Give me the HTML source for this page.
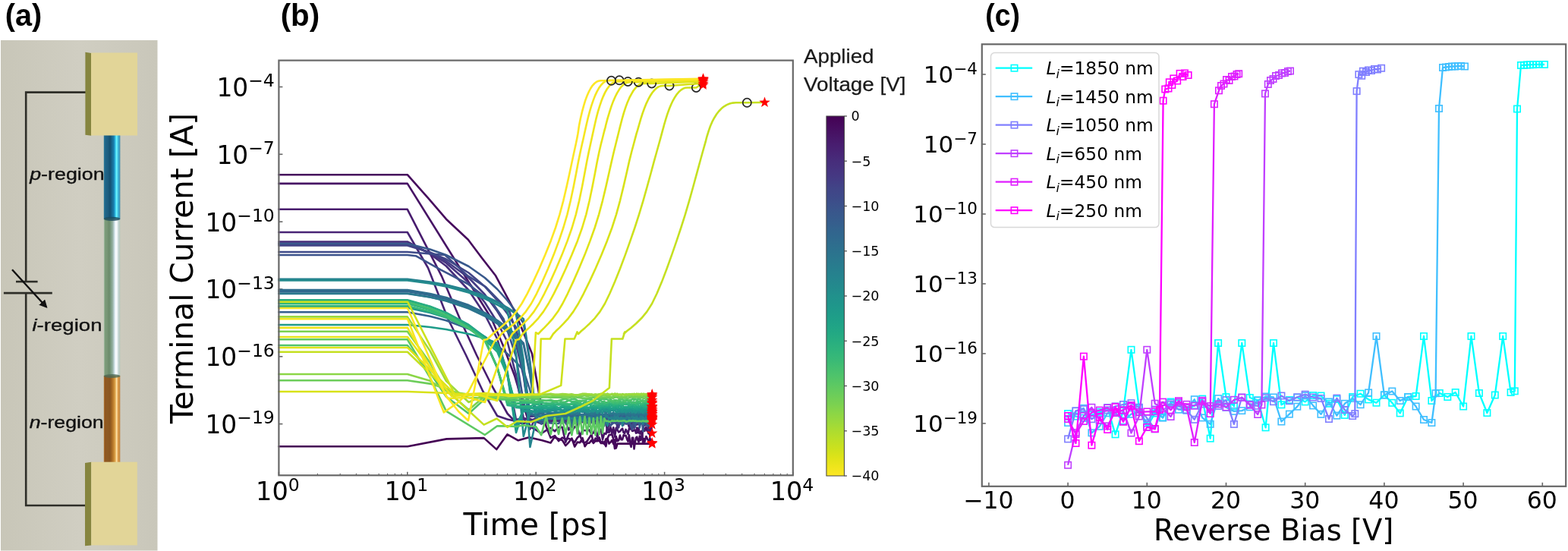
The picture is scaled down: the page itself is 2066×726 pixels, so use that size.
<!DOCTYPE html>
<html><head><meta charset="utf-8"><title>Figure</title>
<style>html,body{margin:0;padding:0;background:#fff;overflow:hidden;}svg{display:block;}</style></head>
<body><svg width="2066" height="726" viewBox="0 0 2066 726">
<rect width="2066" height="726" fill="#fff"/>
<defs>
<linearGradient id="bgA" x1="0" y1="0" x2="1" y2="0">
 <stop offset="0" stop-color="#c8c6b8"/><stop offset="0.5" stop-color="#d0cec2"/><stop offset="1" stop-color="#c9c7ba"/>
</linearGradient>
<linearGradient id="pB" x1="0" y1="0" x2="1" y2="0">
 <stop offset="0" stop-color="#2a7a98"/><stop offset="0.1" stop-color="#1f6488"/><stop offset="0.25" stop-color="#1c5e80"/><stop offset="0.38" stop-color="#145070"/><stop offset="0.5" stop-color="#186890"/><stop offset="0.62" stop-color="#1a80b0"/><stop offset="0.7" stop-color="#30c0e8"/><stop offset="0.78" stop-color="#70f8ff"/><stop offset="0.86" stop-color="#40c0e0"/><stop offset="0.94" stop-color="#3a9ac0"/><stop offset="1" stop-color="#5090a8"/>
</linearGradient>
<linearGradient id="iB" x1="0" y1="0" x2="1" y2="0">
 <stop offset="0" stop-color="#b0c4b0"/><stop offset="0.07" stop-color="#7c9c7a"/><stop offset="0.2" stop-color="#789676"/><stop offset="0.33" stop-color="#6a8a6a"/><stop offset="0.45" stop-color="#80a088"/><stop offset="0.55" stop-color="#98b4a8"/><stop offset="0.65" stop-color="#cfe0e8"/><stop offset="0.72" stop-color="#f8fcff"/><stop offset="0.8" stop-color="#f4f8fa"/><stop offset="0.9" stop-color="#c0d2d0"/><stop offset="1" stop-color="#b8c8b8"/>
</linearGradient>
<linearGradient id="nB" x1="0" y1="0" x2="1" y2="0">
 <stop offset="0" stop-color="#b07830"/><stop offset="0.08" stop-color="#905520"/><stop offset="0.2" stop-color="#8e5a22"/><stop offset="0.38" stop-color="#8a5520"/><stop offset="0.5" stop-color="#a86a24"/><stop offset="0.62" stop-color="#c88a34"/><stop offset="0.7" stop-color="#e0a850"/><stop offset="0.78" stop-color="#ffe4a8"/><stop offset="0.86" stop-color="#e0a050"/><stop offset="0.94" stop-color="#c88838"/><stop offset="1" stop-color="#c09060"/>
</linearGradient>
<marker id="arr" viewBox="0 0 10 10" refX="8" refY="5" markerWidth="4.5" markerHeight="4.5" orient="auto-start-reverse"><path d="M0,0 L10,5 L0,10 z" fill="#111"/></marker>
</defs>
<rect x="1" y="53" width="206.5" height="672.5" fill="url(#bgA)"/>
<path d="M113,121.6 H34.2 V371" fill="none" stroke="#2e2e28" stroke-width="2.6"/>
<path d="M34.2,386 V666 H113" fill="none" stroke="#2e2e28" stroke-width="2.6"/>
<line x1="21" y1="371.1" x2="49.6" y2="371.1" stroke="#2e2e28" stroke-width="2.6"/>
<line x1="4.9" y1="386.1" x2="68.8" y2="386.1" stroke="#2e2e28" stroke-width="2.6"/>
<line x1="16" y1="355.3" x2="61" y2="404.5" stroke="#111" stroke-width="2.4" marker-end="url(#arr)"/>
<rect x="136.8" y="177" width="21.6" height="112" fill="url(#pB)"/>
<rect x="136.8" y="288" width="21.6" height="208" fill="url(#iB)"/>
<rect x="136.8" y="495" width="21.6" height="115" fill="url(#nB)"/>
<ellipse cx="147.6" cy="288.4" rx="10.8" ry="2.6" fill="#1d4c5e" opacity="0.85"/>
<ellipse cx="147.6" cy="495.5" rx="10.8" ry="2.4" fill="#4d6a58" opacity="0.8"/>
<polygon points="112.4,68.7 120.2,70 120.2,178.8 112.4,177.8" fill="#86853f"/>
<rect x="120" y="69.5" width="61" height="109" fill="#e2d598"/>
<polygon points="112,610 120.3,608.7 120.3,718.4 112,719.3" fill="#86853f"/>
<rect x="120.2" y="608.7" width="60.6" height="109.7" fill="#e2d598"/>
<text x="39.2" y="237" font-family="'Liberation Sans', Arial, sans-serif" font-size="22.5" fill="#111" stroke="#111" stroke-width="0.35" textLength="98.5" lengthAdjust="spacingAndGlyphs"><tspan font-style="italic">p</tspan>-region</text>
<text x="42.5" y="435.7" font-family="'Liberation Sans', Arial, sans-serif" font-size="22.5" fill="#111" stroke="#111" stroke-width="0.35" textLength="92" lengthAdjust="spacingAndGlyphs"><tspan font-style="italic">i</tspan>-region</text>
<text x="38.7" y="563.7" font-family="'Liberation Sans', Arial, sans-serif" font-size="22.5" fill="#111" stroke="#111" stroke-width="0.35" textLength="98" lengthAdjust="spacingAndGlyphs"><tspan font-style="italic">n</tspan>-region</text>
<text x="6.8" y="33.6" font-family="'Liberation Sans', Arial, sans-serif" font-size="41.5" font-weight="bold" fill="#000" textLength="48.5" lengthAdjust="spacingAndGlyphs">(a)</text>
<text x="369.7" y="33.6" font-family="'Liberation Sans', Arial, sans-serif" font-size="41.5" font-weight="bold" fill="#000" textLength="51.5" lengthAdjust="spacingAndGlyphs">(b)</text>
<line x1="367.4" y1="114.5" x2="372.4" y2="114.5" stroke="#686868" stroke-width="1.6"/>
<text x="361.8" y="126.9" text-anchor="end" font-family="'DejaVu Sans', 'Liberation Sans', sans-serif" font-size="32.8" fill="#000">10<tspan dy="-12.7" font-size="23.5">−4</tspan></text>
<line x1="367.4" y1="203.3" x2="372.4" y2="203.3" stroke="#686868" stroke-width="1.6"/>
<text x="361.8" y="215.7" text-anchor="end" font-family="'DejaVu Sans', 'Liberation Sans', sans-serif" font-size="32.8" fill="#000">10<tspan dy="-12.7" font-size="23.5">−7</tspan></text>
<line x1="367.4" y1="292.2" x2="372.4" y2="292.2" stroke="#686868" stroke-width="1.6"/>
<text x="361.8" y="304.6" text-anchor="end" font-family="'DejaVu Sans', 'Liberation Sans', sans-serif" font-size="32.8" fill="#000">10<tspan dy="-12.7" font-size="23.5">−10</tspan></text>
<line x1="367.4" y1="381" x2="372.4" y2="381" stroke="#686868" stroke-width="1.6"/>
<text x="361.8" y="393.4" text-anchor="end" font-family="'DejaVu Sans', 'Liberation Sans', sans-serif" font-size="32.8" fill="#000">10<tspan dy="-12.7" font-size="23.5">−13</tspan></text>
<line x1="367.4" y1="469.8" x2="372.4" y2="469.8" stroke="#686868" stroke-width="1.6"/>
<text x="361.8" y="482.2" text-anchor="end" font-family="'DejaVu Sans', 'Liberation Sans', sans-serif" font-size="32.8" fill="#000">10<tspan dy="-12.7" font-size="23.5">−16</tspan></text>
<line x1="367.4" y1="558.6" x2="372.4" y2="558.6" stroke="#686868" stroke-width="1.6"/>
<text x="361.8" y="571" text-anchor="end" font-family="'DejaVu Sans', 'Liberation Sans', sans-serif" font-size="32.8" fill="#000">10<tspan dy="-12.7" font-size="23.5">−19</tspan></text>
<line x1="418.4" y1="626.3" x2="418.4" y2="623.8" stroke="#686868" stroke-width="1.2"/>
<line x1="448.2" y1="626.3" x2="448.2" y2="623.8" stroke="#686868" stroke-width="1.2"/>
<line x1="469.4" y1="626.3" x2="469.4" y2="623.8" stroke="#686868" stroke-width="1.2"/>
<line x1="485.8" y1="626.3" x2="485.8" y2="623.8" stroke="#686868" stroke-width="1.2"/>
<line x1="499.2" y1="626.3" x2="499.2" y2="623.8" stroke="#686868" stroke-width="1.2"/>
<line x1="510.6" y1="626.3" x2="510.6" y2="623.8" stroke="#686868" stroke-width="1.2"/>
<line x1="520.4" y1="626.3" x2="520.4" y2="623.8" stroke="#686868" stroke-width="1.2"/>
<line x1="529" y1="626.3" x2="529" y2="623.8" stroke="#686868" stroke-width="1.2"/>
<line x1="587.8" y1="626.3" x2="587.8" y2="623.8" stroke="#686868" stroke-width="1.2"/>
<line x1="617.6" y1="626.3" x2="617.6" y2="623.8" stroke="#686868" stroke-width="1.2"/>
<line x1="638.8" y1="626.3" x2="638.8" y2="623.8" stroke="#686868" stroke-width="1.2"/>
<line x1="655.2" y1="626.3" x2="655.2" y2="623.8" stroke="#686868" stroke-width="1.2"/>
<line x1="668.6" y1="626.3" x2="668.6" y2="623.8" stroke="#686868" stroke-width="1.2"/>
<line x1="680" y1="626.3" x2="680" y2="623.8" stroke="#686868" stroke-width="1.2"/>
<line x1="689.8" y1="626.3" x2="689.8" y2="623.8" stroke="#686868" stroke-width="1.2"/>
<line x1="698.4" y1="626.3" x2="698.4" y2="623.8" stroke="#686868" stroke-width="1.2"/>
<line x1="757.2" y1="626.3" x2="757.2" y2="623.8" stroke="#686868" stroke-width="1.2"/>
<line x1="787" y1="626.3" x2="787" y2="623.8" stroke="#686868" stroke-width="1.2"/>
<line x1="808.2" y1="626.3" x2="808.2" y2="623.8" stroke="#686868" stroke-width="1.2"/>
<line x1="824.6" y1="626.3" x2="824.6" y2="623.8" stroke="#686868" stroke-width="1.2"/>
<line x1="838" y1="626.3" x2="838" y2="623.8" stroke="#686868" stroke-width="1.2"/>
<line x1="849.4" y1="626.3" x2="849.4" y2="623.8" stroke="#686868" stroke-width="1.2"/>
<line x1="859.2" y1="626.3" x2="859.2" y2="623.8" stroke="#686868" stroke-width="1.2"/>
<line x1="867.8" y1="626.3" x2="867.8" y2="623.8" stroke="#686868" stroke-width="1.2"/>
<line x1="926.6" y1="626.3" x2="926.6" y2="623.8" stroke="#686868" stroke-width="1.2"/>
<line x1="956.4" y1="626.3" x2="956.4" y2="623.8" stroke="#686868" stroke-width="1.2"/>
<line x1="977.6" y1="626.3" x2="977.6" y2="623.8" stroke="#686868" stroke-width="1.2"/>
<line x1="994" y1="626.3" x2="994" y2="623.8" stroke="#686868" stroke-width="1.2"/>
<line x1="1007.4" y1="626.3" x2="1007.4" y2="623.8" stroke="#686868" stroke-width="1.2"/>
<line x1="1018.8" y1="626.3" x2="1018.8" y2="623.8" stroke="#686868" stroke-width="1.2"/>
<line x1="1028.6" y1="626.3" x2="1028.6" y2="623.8" stroke="#686868" stroke-width="1.2"/>
<line x1="1037.2" y1="626.3" x2="1037.2" y2="623.8" stroke="#686868" stroke-width="1.2"/>
<line x1="367.4" y1="626.3" x2="367.4" y2="621.8" stroke="#686868" stroke-width="1.6"/>
<text x="365.9" y="659" text-anchor="middle" font-family="'DejaVu Sans', 'Liberation Sans', sans-serif" font-size="33.5" fill="#000">10<tspan dy="-12.5" font-size="23.5">0</tspan></text>
<line x1="536.8" y1="626.3" x2="536.8" y2="621.8" stroke="#686868" stroke-width="1.6"/>
<text x="535.3" y="659" text-anchor="middle" font-family="'DejaVu Sans', 'Liberation Sans', sans-serif" font-size="33.5" fill="#000">10<tspan dy="-12.5" font-size="23.5">1</tspan></text>
<line x1="706.2" y1="626.3" x2="706.2" y2="621.8" stroke="#686868" stroke-width="1.6"/>
<text x="704.7" y="659" text-anchor="middle" font-family="'DejaVu Sans', 'Liberation Sans', sans-serif" font-size="33.5" fill="#000">10<tspan dy="-12.5" font-size="23.5">2</tspan></text>
<line x1="875.6" y1="626.3" x2="875.6" y2="621.8" stroke="#686868" stroke-width="1.6"/>
<text x="874.1" y="659" text-anchor="middle" font-family="'DejaVu Sans', 'Liberation Sans', sans-serif" font-size="33.5" fill="#000">10<tspan dy="-12.5" font-size="23.5">3</tspan></text>
<line x1="1045" y1="626.3" x2="1045" y2="621.8" stroke="#686868" stroke-width="1.6"/>
<text x="1043.5" y="659" text-anchor="middle" font-family="'DejaVu Sans', 'Liberation Sans', sans-serif" font-size="33.5" fill="#000">10<tspan dy="-12.5" font-size="23.5">4</tspan></text>
<text x="706" y="704.6" text-anchor="middle" font-family="'DejaVu Sans', 'Liberation Sans', sans-serif" font-size="40.6" fill="#000">Time [ps]</text>
<text transform="translate(253.8,353.5) rotate(-90)" text-anchor="middle" font-family="'DejaVu Sans', 'Liberation Sans', sans-serif" font-size="40.6" fill="#000">Terminal Current [A]</text>
<path d="M367.4,588.2 L537,588.2 L588.4,578.4 L637.6,577.1 L654.3,592.1 L668.5,572.3 L682.8,580.3 L697,576.3 L714.4,580.3 L725.5,583.4 L730.3,576.3 L740.8,579.9 L745.2,587.2 L749.4,582.8 L753.4,577.5 L757.2,588.5 L760.8,582.6 L764.2,583.2 L767.5,577.1 L770.6,588.2 L773.6,583.9 L776.5,583.6 L779.3,580.2 L781.9,583.5 L784.5,581.1 L787,581.3 L789.4,580.3 L791.8,584 L794,583.6 L796.2,585 L798.4,578.4 L800.4,577.6 L802.5,584.6 L804.4,582.7 L806.3,580 L808.2,584.8 L810,579.6 L811.8,590.5 L813.5,584.6 L859.2,584.6" fill="none" stroke="#440154" stroke-width="2.6" stroke-linejoin="round" stroke-linecap="round"/>
<path d="M367.4,230.3 L537,230.3 L564.7,261.7 L587.9,288.7 L616.8,315.7 L635,340 L652.7,362.7 L678.6,410.9 L701,466 L710,517.7 L719.6,562 L725.5,576.8 L731,574.1 L736,581.1 L740.8,576.6 L745.2,578.5 L749.4,577.9 L753.4,579.4 L757.2,582.8 L760.8,576.7 L764.2,573.8 L767.5,582.2 L770.6,583.4 L773.6,581.3 L776.5,576.8 L779.3,572.1 L781.9,583.9 L784.5,577.5 L787,579.3 L789.4,576.3 L791.8,583 L794,581.5 L796.2,583.8 L798.4,588.1 L800.4,577.7 L802.5,573 L804.4,573 L806.3,572.1 L808.2,578.3 L810,591.1 L811.8,575.1 L813.5,581.2 L815.2,580.3 L816.9,573.6 L818.5,579.2 L820.1,579.3 L821.6,573.2 L823.1,574.1 L824.6,573.7 L826.1,578.7 L827.5,581.6 L828.9,573.4 L830.3,584.5 L831.6,588.8 L832.9,576.8 L834.2,576.8 L835.5,591.5 L836.8,583.1 L838,576.8 L839.2,575.7 L840.4,579.8 L841.6,582.5 L842.8,574.6 L843.9,580.1 L845,575.6 L846.1,573 L847.2,583.6 L848.3,578 L849.4,582.5 L850.4,578.4 L851.4,575.1 L852.4,576.9 L853.4,579.3 L854.4,580.1 L855.4,583.8 L856.4,577.3 L857.3,582.6 L858.3,580 L859.2,583.6" fill="none" stroke="#460a5d" stroke-width="2.6" stroke-linejoin="round" stroke-linecap="round"/>
<path d="M367.4,241.9 L536.8,241.9 L647.7,420 L664,458 L678,495 L690,535 L698.4,562 L706.2,566.5 L713.2,571.2 L719.6,567.1 L725.5,563.8 L731,568.3 L736,562.9 L740.8,562.9 L745.2,582.8 L749.4,571.6 L753.4,568.2 L757.2,562.2 L760.8,562.6 L764.2,574.7 L767.5,566.4 L770.6,567.2 L773.6,567 L776.5,566.6 L779.3,572 L781.9,570.4 L784.5,565.2 L787,577.3 L789.4,566 L791.8,565.9 L794,578.9 L796.2,571.1 L798.4,571.8 L800.4,562.7 L802.5,569.8 L804.4,562.9 L806.3,571.6 L808.2,563.2 L810,575.6 L811.8,563.8 L813.5,566.5 L815.2,569.3 L816.9,568.4 L818.5,566.2 L820.1,564.7 L821.6,570 L823.1,570.8 L824.6,565.9 L826.1,568.4 L827.5,571.9 L828.9,564.6 L830.3,565.3 L831.6,562.7 L832.9,567.8 L834.2,568 L835.5,566.5 L836.8,566.8 L838,570.7 L839.2,563.5 L840.4,570.2 L841.6,563.9 L842.8,571.4 L843.9,571.5 L845,568 L846.1,576.8 L847.2,564.4 L848.3,564.6 L849.4,568 L850.4,563.8 L851.4,562.7 L852.4,567.6 L853.4,568.1 L854.4,571.2 L855.4,562.2 L856.4,574.7 L857.3,565.7 L858.3,563.3 L859.2,570.9" fill="none" stroke="#471365" stroke-width="2.6" stroke-linejoin="round" stroke-linecap="round"/>
<path d="M367.4,275.8 L536.8,275.8 L582.3,364.7 L605.9,420 L628,468 L648,508 L668.6,545 L680,556.8 L689.8,558 L698.4,554.1 L706.2,555.6 L713.2,558.1 L719.6,557.3 L725.5,554.9 L731,555 L736,554.4 L740.8,554.4 L745.2,556 L749.4,566.5 L753.4,559.5 L757.2,554.5 L760.8,559.7 L764.2,556.5 L767.5,555.9 L770.6,555 L773.6,554.3 L776.5,558.9 L779.3,556.5 L781.9,556.9 L784.5,554.2 L787,559.8 L789.4,558 L791.8,556.2 L794,558 L796.2,555.4 L798.4,557.1 L800.4,569.8 L802.5,556.6 L804.4,555.3 L806.3,556.3 L808.2,554.6 L810,555.1 L811.8,554.2 L813.5,556.1 L815.2,554.3 L816.9,555.3 L818.5,556.9 L820.1,556.9 L821.6,555 L823.1,556.2 L824.6,558.5 L826.1,554 L827.5,558.6 L828.9,562.7 L830.3,557.7 L831.6,560 L832.9,554.1 L834.2,558.7 L835.5,557.8 L836.8,557.2 L838,557.8 L839.2,559.7 L840.4,555 L841.6,559.2 L842.8,559.7 L843.9,558.2 L845,555.3 L846.1,555.5 L847.2,558.2 L848.3,559.3 L849.4,555.4 L850.4,559.9 L851.4,557.7 L852.4,559.8 L853.4,556.5 L854.4,559.4 L855.4,557.5 L856.4,556.2 L857.3,569.4 L858.3,559.4 L859.2,559.4" fill="none" stroke="#481c6e" stroke-width="2.6" stroke-linejoin="round" stroke-linecap="round"/>
<path d="M367.4,306 L536.8,306 L564,353 L590.2,420 L614,468 L636,515 L655.2,548 L668.6,552.6 L680,555.1 L689.8,552.1 L698.4,551.9 L706.2,555.4 L713.2,554.2 L719.6,552.8 L725.5,556 L731,551.1 L736,551.9 L740.8,555.9 L745.2,556 L749.4,556.7 L753.4,552.5 L757.2,553.9 L760.8,554.4 L764.2,553.2 L767.5,552.9 L770.6,555.9 L773.6,556.9 L776.5,554.3 L779.3,551.8 L781.9,553.7 L784.5,552.2 L787,552.5 L789.4,554.6 L791.8,551.8 L794,552.4 L796.2,552.2 L798.4,551.4 L800.4,556.7 L802.5,555.3 L804.4,551.3 L806.3,555.8 L808.2,554.8 L810,553.5 L811.8,556.3 L813.5,552.2 L815.2,553.2 L816.9,551.8 L818.5,554.6 L820.1,552.3 L821.6,554.5 L823.1,553.2 L824.6,553 L826.1,552 L827.5,551.7 L828.9,551.4 L830.3,554.3 L831.6,551.2 L832.9,553.1 L834.2,551 L835.5,551.7 L836.8,552.6 L838,551.5 L839.2,553.2 L840.4,551 L841.6,554 L842.8,554.1 L843.9,555 L845,551.2 L846.1,556.5 L847.2,552.5 L848.3,556.1 L849.4,554.5 L850.4,552.5 L851.4,552.2 L852.4,551.2 L853.4,551.5 L854.4,567 L855.4,552.1 L856.4,554.3 L857.3,552.7 L858.3,551.8 L859.2,551.7" fill="none" stroke="#482475" stroke-width="2.6" stroke-linejoin="round" stroke-linecap="round"/>
<path d="M367.4,318.5 L536.8,318.5 L566.6,334.5 L587.8,350.5 L617.6,382.5 L638.8,414.5 L655.2,446.5 L668.6,492.9 L680,553 L689.8,550.6 L698.4,553.9 L706.2,551.6 L713.2,554.4 L719.6,551.8 L725.5,552.4 L731,550.7 L736,555.4 L740.8,551.6 L745.2,553.8 L749.4,553.3 L753.4,551 L757.2,550.7 L760.8,550.5 L764.2,555.9 L767.5,555.9 L770.6,553.6 L773.6,554.1 L776.5,553.5 L779.3,551.1 L781.9,555.2 L784.5,551.2 L787,551.3 L789.4,553 L791.8,554.9 L794,563.9 L796.2,550.7 L798.4,550.6 L800.4,554.1 L802.5,552.7 L804.4,552.6 L806.3,550.6 L808.2,551.4 L810,555.6 L811.8,550.9 L813.5,565.4 L815.2,555.7 L816.9,552.1 L818.5,555.6 L820.1,551.8 L821.6,553.8 L823.1,551.5 L824.6,550.2 L826.1,555.9 L827.5,551.7 L828.9,552.1 L830.3,550.2 L831.6,551.2 L832.9,555.2 L834.2,551.5 L835.5,555.5 L836.8,554.6 L838,553.4 L839.2,555.7 L840.4,553 L841.6,552.2 L842.8,555.8 L843.9,554.6 L845,555.5 L846.1,551.5 L847.2,552.8 L848.3,551.6 L849.4,551.2 L850.4,550.8 L851.4,552.7 L852.4,552.3 L853.4,551.5 L854.4,552.6 L855.4,551.3 L856.4,554.4 L857.3,554 L858.3,553.9 L859.2,552.1" fill="none" stroke="#472d7b" stroke-width="2.6" stroke-linejoin="round" stroke-linecap="round"/>
<path d="M367.4,320.5 L536.8,320.5 L566.6,333.5 L587.8,346.5 L617.6,372.5 L638.8,398.5 L655.2,424.5 L668.6,450.5 L680,494.2 L689.8,551 L698.4,565.4 L706.2,549.4 L713.2,548.7 L719.6,551.9 L725.5,553.4 L731,550.2 L736,549.9 L740.8,549.7 L745.2,552.8 L749.4,549.7 L753.4,551.1 L757.2,550.8 L760.8,549 L764.2,550.3 L767.5,553.1 L770.6,550.5 L773.6,553.4 L776.5,561.1 L779.3,549.4 L781.9,551.9 L784.5,550 L787,552.9 L789.4,559.4 L791.8,552.6 L794,550.5 L796.2,549.5 L798.4,550.3 L800.4,550.1 L802.5,550.1 L804.4,550.2 L806.3,549 L808.2,552.4 L810,549.2 L811.8,550.4 L813.5,553.1 L815.2,563.2 L816.9,553.1 L818.5,551 L820.1,560.7 L821.6,552.6 L823.1,550.8 L824.6,551.4 L826.1,549.8 L827.5,548.6 L828.9,551.7 L830.3,550.3 L831.6,552 L832.9,550.1 L834.2,552.4 L835.5,564.6 L836.8,550.3 L838,551.1 L839.2,549.8 L840.4,550.2 L841.6,551.9 L842.8,550.1 L843.9,552 L845,548.9 L846.1,552.7 L847.2,549.1 L848.3,551.4 L849.4,552.9 L850.4,549.1 L851.4,552.1 L852.4,550.9 L853.4,550.5 L854.4,548.6 L855.4,549.3 L856.4,552.6 L857.3,551.4 L858.3,552.2 L859.2,549.7" fill="none" stroke="#463480" stroke-width="2.6" stroke-linejoin="round" stroke-linecap="round"/>
<path d="M367.4,322 L536.8,322 L566.6,333 L587.8,344 L617.6,366 L638.8,388 L655.2,410 L668.6,432 L680,454 L689.8,495.4 L698.4,549 L706.2,548.3 L713.2,548.6 L719.6,548.6 L725.5,547.8 L731,546.6 L736,548.2 L740.8,550.2 L745.2,550.4 L749.4,547.8 L753.4,550.5 L757.2,546.7 L760.8,549.6 L764.2,547.7 L767.5,547.8 L770.6,548.3 L773.6,549.7 L776.5,561.8 L779.3,550.6 L781.9,549.1 L784.5,547.3 L787,548.8 L789.4,550 L791.8,546.7 L794,549 L796.2,548.9 L798.4,548.8 L800.4,557 L802.5,547.7 L804.4,548.4 L806.3,549.8 L808.2,548.1 L810,551.2 L811.8,549.7 L813.5,547.7 L815.2,547 L816.9,546.6 L818.5,551 L820.1,549.9 L821.6,550.3 L823.1,549.7 L824.6,558.1 L826.1,551 L827.5,547.3 L828.9,546.8 L830.3,550.1 L831.6,555.2 L832.9,549.8 L834.2,549 L835.5,547.6 L836.8,547.1 L838,548.7 L839.2,547.7 L840.4,550.8 L841.6,547.7 L842.8,549.8 L843.9,550.7 L845,557.8 L846.1,548 L847.2,547 L848.3,548.1 L849.4,549.2 L850.4,549.4 L851.4,549 L852.4,549.6 L853.4,550.1 L854.4,548.8 L855.4,559.4 L856.4,547.4 L857.3,548.5 L858.3,547.7 L859.2,550" fill="none" stroke="#443b84" stroke-width="2.6" stroke-linejoin="round" stroke-linecap="round"/>
<path d="M367.4,323.5 L536.8,323.5 L566.6,332.5 L587.8,341.5 L617.6,359.5 L638.8,377.5 L655.2,395.5 L668.6,413.5 L680,431.5 L689.8,481.8 L698.4,547 L706.2,547.1 L713.2,549.2 L719.6,548.3 L725.5,547.8 L731,544.7 L736,548.2 L740.8,547 L745.2,548.7 L749.4,546.5 L753.4,544.9 L757.2,548.8 L760.8,548 L764.2,549.2 L767.5,547.2 L770.6,547.7 L773.6,545 L776.5,546.9 L779.3,545.3 L781.9,548.5 L784.5,544.7 L787,544.8 L789.4,546.3 L791.8,546.4 L794,548.8 L796.2,547.3 L798.4,547.1 L800.4,545.9 L802.5,545.5 L804.4,547.3 L806.3,545.2 L808.2,549 L810,546.2 L811.8,547.4 L813.5,544.6 L815.2,546.3 L816.9,545.9 L818.5,548.1 L820.1,545 L821.6,559.9 L823.1,547.9 L824.6,548.1 L826.1,547.4 L827.5,545.5 L828.9,545.3 L830.3,545.6 L831.6,547.2 L832.9,549 L834.2,544.8 L835.5,545 L836.8,548.6 L838,546.5 L839.2,545 L840.4,545.8 L841.6,545.9 L842.8,546 L843.9,546.9 L845,546.9 L846.1,547.1 L847.2,549.2 L848.3,545.7 L849.4,545.5 L850.4,544.7 L851.4,547.3 L852.4,548.9 L853.4,547.4 L854.4,547.3 L855.4,546.4 L856.4,548.2 L857.3,546.3 L858.3,547.1 L859.2,545.5" fill="none" stroke="#414487" stroke-width="2.6" stroke-linejoin="round" stroke-linecap="round"/>
<path d="M367.4,332 L536.8,332 L586.3,336 L616.3,363.4 L639.9,378 L671.3,410.5 L686,455 L691.8,510 L698.4,545 L706.2,547.5 L713.2,548.2 L719.6,548.9 L725.5,548.9 L731,547.9 L736,549.9 L740.8,549.8 L745.2,550.8 L749.4,547.7 L753.4,550.1 L757.2,547.6 L760.8,550.8 L764.2,547.6 L767.5,546.6 L770.6,547.7 L773.6,549.2 L776.5,549.1 L779.3,549.5 L781.9,547.2 L784.5,551 L787,549.9 L789.4,547.4 L791.8,549.9 L794,548.6 L796.2,547.1 L798.4,549.4 L800.4,548.2 L802.5,550.6 L804.4,547 L806.3,558.9 L808.2,549.2 L810,551 L811.8,550.4 L813.5,549.9 L815.2,551.3 L816.9,549.9 L818.5,548.9 L820.1,547.5 L821.6,547.9 L823.1,550 L824.6,548.2 L826.1,548 L827.5,551.4 L828.9,546.7 L830.3,547.3 L831.6,550.1 L832.9,548.6 L834.2,549.3 L835.5,547.1 L836.8,550.3 L838,548.5 L839.2,548.9 L840.4,550.8 L841.6,547.3 L842.8,550.4 L843.9,550.1 L845,546.9 L846.1,551.1 L847.2,550.1 L848.3,549.1 L849.4,560.7 L850.4,550 L851.4,547.2 L852.4,558.7 L853.4,549.5 L854.4,550.1 L855.4,548.6 L856.4,550.2 L857.3,546.7 L858.3,559.2 L859.2,547.9" fill="none" stroke="#3e4a89" stroke-width="2.6" stroke-linejoin="round" stroke-linecap="round"/>
<path d="M367.4,336 L536.8,336 L548.3,337.3 L581,355.6 L616.3,374 L647.7,397.5 L663.4,420 L680,470 L689.8,530 L698.4,555.3 L706.2,554 L713.2,556.5 L719.6,556.3 L725.5,557.4 L731,557.7 L736,558 L740.8,553.9 L745.2,557.3 L749.4,556.9 L753.4,553.4 L757.2,553.2 L760.8,558 L764.2,557.4 L767.5,553.8 L770.6,553.7 L773.6,557.1 L776.5,553.3 L779.3,556.7 L781.9,554.1 L784.5,558.1 L787,553.9 L789.4,555.4 L791.8,556 L794,553.1 L796.2,555.8 L798.4,555.6 L800.4,556.2 L802.5,556.9 L804.4,561.1 L806.3,558.2 L808.2,557.5 L810,557 L811.8,558.3 L813.5,557.5 L815.2,555.5 L816.9,558.8 L818.5,555.6 L820.1,557.1 L821.6,555.7 L823.1,554.7 L824.6,557.1 L826.1,558.4 L827.5,558.5 L828.9,558.3 L830.3,557.4 L831.6,562.2 L832.9,565.7 L834.2,556.4 L835.5,555 L836.8,557.1 L838,559 L839.2,557.3 L840.4,556 L841.6,558.4 L842.8,553.2 L843.9,558.7 L845,556.1 L846.1,554.1 L847.2,568.3 L848.3,556.6 L849.4,557.1 L850.4,558.4 L851.4,553.9 L852.4,556.7 L853.4,558.2 L854.4,556.5 L855.4,557.8 L856.4,554.4 L857.3,556.6 L858.3,554.1 L859.2,553.4" fill="none" stroke="#3b528b" stroke-width="2.6" stroke-linejoin="round" stroke-linecap="round"/>
<path d="M367.4,321 L536.8,321 L566.6,328.5 L587.8,336 L617.6,351 L638.8,366 L655.2,381 L668.6,396 L680,411 L689.8,426 L698.4,479.5 L706.2,549 L713.2,558.6 L719.6,547.7 L725.5,549.8 L731,547 L736,546.7 L740.8,557.4 L745.2,549.7 L749.4,547.7 L753.4,563.1 L757.2,550 L760.8,547.3 L764.2,548.2 L767.5,547.1 L770.6,549.5 L773.6,550.1 L776.5,551.3 L779.3,549.2 L781.9,549.6 L784.5,549.4 L787,546.8 L789.4,548 L791.8,547.7 L794,547.9 L796.2,548.4 L798.4,547.6 L800.4,551.1 L802.5,549.5 L804.4,550.1 L806.3,548.4 L808.2,549.7 L810,549.9 L811.8,550.3 L813.5,546.8 L815.2,547.9 L816.9,551.1 L818.5,548.1 L820.1,548.5 L821.6,548.8 L823.1,547.8 L824.6,547.9 L826.1,550.9 L827.5,547.7 L828.9,549 L830.3,546.8 L831.6,549.6 L832.9,548.6 L834.2,548.4 L835.5,549.1 L836.8,562.8 L838,549.9 L839.2,547.9 L840.4,547.1 L841.6,548.8 L842.8,550.8 L843.9,549 L845,551 L846.1,548 L847.2,549.5 L848.3,550.3 L849.4,550.3 L850.4,546.6 L851.4,546.7 L852.4,550.8 L853.4,561.2 L854.4,551.1 L855.4,548.9 L856.4,550.3 L857.3,547.2 L858.3,549.2 L859.2,550.8" fill="none" stroke="#38598c" stroke-width="2.6" stroke-linejoin="round" stroke-linecap="round"/>
<path d="M367.4,411.2 L536.8,411.2 L566.6,416.7 L587.8,422.2 L617.6,433.2 L638.8,444.2 L655.2,455.2 L668.6,466.2 L680,477.2 L689.8,488.2 L698.4,514.2 L706.2,548 L713.2,547.8 L719.6,545.8 L725.5,550.2 L731,546.2 L736,549.8 L740.8,545.7 L745.2,546.2 L749.4,548.6 L753.4,550.2 L757.2,548.5 L760.8,550.2 L764.2,548.1 L767.5,549.8 L770.6,549.8 L773.6,547.1 L776.5,546.7 L779.3,546.4 L781.9,549.6 L784.5,550.3 L787,546.6 L789.4,545.9 L791.8,548.5 L794,546 L796.2,546.1 L798.4,547.8 L800.4,550.3 L802.5,547.2 L804.4,547 L806.3,548.3 L808.2,554 L810,547.4 L811.8,549.1 L813.5,549.1 L815.2,545.7 L816.9,550 L818.5,547.7 L820.1,546.5 L821.6,550.2 L823.1,546.4 L824.6,557.6 L826.1,549.5 L827.5,547.6 L828.9,547.9 L830.3,546.8 L831.6,549.2 L832.9,545.8 L834.2,549.7 L835.5,549.4 L836.8,547.5 L838,547.6 L839.2,545.8 L840.4,548.6 L841.6,547.9 L842.8,563.6 L843.9,558 L845,549.1 L846.1,548.4 L847.2,555.5 L848.3,550.2 L849.4,546.5 L850.4,545.7 L851.4,549.3 L852.4,548.5 L853.4,548.9 L854.4,545.7 L855.4,550.1 L856.4,546.9 L857.3,546.7 L858.3,547.5 L859.2,550" fill="none" stroke="#355f8d" stroke-width="2.6" stroke-linejoin="round" stroke-linecap="round"/>
<path d="M367.4,384 L536.8,384 L566.6,389 L587.8,394 L617.6,404 L638.8,414 L655.2,424 L668.6,434 L680,444 L689.8,454 L698.4,494.5 L706.2,547 L713.2,547.7 L719.6,548.1 L725.5,547.9 L731,547.5 L736,546.3 L740.8,546.2 L745.2,546.9 L749.4,547.4 L753.4,547.5 L757.2,545.3 L760.8,544.7 L764.2,547.2 L767.5,549.2 L770.6,544.7 L773.6,545.8 L776.5,548.9 L779.3,548.3 L781.9,545.5 L784.5,546.6 L787,545.9 L789.4,547.9 L791.8,546.4 L794,548.1 L796.2,561.1 L798.4,546.7 L800.4,548.4 L802.5,544.7 L804.4,547.1 L806.3,547.3 L808.2,548.9 L810,545.7 L811.8,546.7 L813.5,545.4 L815.2,547.2 L816.9,545.3 L818.5,547.1 L820.1,547.4 L821.6,557.7 L823.1,555.3 L824.6,548 L826.1,545.6 L827.5,555.7 L828.9,556.4 L830.3,549.1 L831.6,547.9 L832.9,546 L834.2,548.3 L835.5,546.6 L836.8,546.7 L838,546.5 L839.2,547.4 L840.4,545.9 L841.6,547.8 L842.8,545.8 L843.9,544.9 L845,547.4 L846.1,557.2 L847.2,546.9 L848.3,547.6 L849.4,546.3 L850.4,548.8 L851.4,548.9 L852.4,548.3 L853.4,544.8 L854.4,547 L855.4,546.4 L856.4,548.3 L857.3,546.6 L858.3,547.9 L859.2,545.7" fill="none" stroke="#31668e" stroke-width="2.6" stroke-linejoin="round" stroke-linecap="round"/>
<path d="M367.4,382.1 L536.8,382.1 L566.6,387.1 L587.8,392.1 L617.6,402.1 L638.8,412.1 L655.2,422.1 L668.6,432.1 L680,442.1 L689.8,452.1 L698.4,493 L706.2,546 L713.2,544.4 L719.6,546.6 L725.5,544.6 L731,547.5 L736,546 L740.8,543.6 L745.2,546.4 L749.4,547.4 L753.4,558.7 L757.2,547.1 L760.8,555.9 L764.2,546 L767.5,548.2 L770.6,544.3 L773.6,544.2 L776.5,545.8 L779.3,545.2 L781.9,557.6 L784.5,544.7 L787,544.6 L789.4,547.9 L791.8,547.3 L794,547.1 L796.2,545.9 L798.4,544.6 L800.4,547.9 L802.5,545.4 L804.4,545.5 L806.3,553.1 L808.2,547 L810,546 L811.8,546.2 L813.5,544.7 L815.2,546.3 L816.9,544.5 L818.5,545.3 L820.1,545.3 L821.6,545.1 L823.1,543.9 L824.6,547.3 L826.1,546.9 L827.5,547.9 L828.9,545.6 L830.3,548.2 L831.6,547.8 L832.9,545.4 L834.2,547.8 L835.5,543.9 L836.8,547.3 L838,556.4 L839.2,545 L840.4,544.4 L841.6,545.2 L842.8,548.3 L843.9,545.9 L845,548.2 L846.1,555.6 L847.2,547.6 L848.3,547.8 L849.4,545.6 L850.4,547.7 L851.4,546.2 L852.4,559.1 L853.4,559.3 L854.4,546.7 L855.4,546.4 L856.4,545.5 L857.3,547.9 L858.3,544.1 L859.2,543.7" fill="none" stroke="#2f6c8e" stroke-width="2.6" stroke-linejoin="round" stroke-linecap="round"/>
<path d="M367.4,386.5 L536.8,386.5 L566.6,391.5 L587.8,396.5 L617.6,406.5 L638.8,416.5 L655.2,426.5 L668.6,436.5 L680,446.5 L689.8,489.4 L698.4,545 L706.2,547.2 L713.2,543.3 L719.6,542.7 L725.5,547.4 L731,543.5 L736,543.2 L740.8,545.7 L745.2,544.3 L749.4,546.9 L753.4,543.7 L757.2,547.2 L760.8,544.1 L764.2,545.5 L767.5,547.1 L770.6,545.9 L773.6,547 L776.5,546 L779.3,542.8 L781.9,546.8 L784.5,545.4 L787,544.1 L789.4,543.5 L791.8,546.7 L794,545.4 L796.2,547.1 L798.4,546.3 L800.4,547.2 L802.5,545.3 L804.4,546 L806.3,545.5 L808.2,543.8 L810,547.2 L811.8,544.1 L813.5,546.3 L815.2,547.2 L816.9,545.7 L818.5,543.3 L820.1,546.6 L821.6,545.8 L823.1,543.5 L824.6,542.8 L826.1,545.2 L827.5,542.8 L828.9,547 L830.3,545 L831.6,545.1 L832.9,544.6 L834.2,545.8 L835.5,547 L836.8,544.1 L838,544.4 L839.2,545.4 L840.4,544 L841.6,545.5 L842.8,545.2 L843.9,544.7 L845,545.8 L846.1,545.1 L847.2,543 L848.3,547.4 L849.4,544.3 L850.4,544.7 L851.4,544.5 L852.4,547.1 L853.4,547.2 L854.4,545.1 L855.4,544.5 L856.4,543.1 L857.3,546.9 L858.3,543.4 L859.2,545.2" fill="none" stroke="#2c728e" stroke-width="2.6" stroke-linejoin="round" stroke-linecap="round"/>
<path d="M367.4,387 L536.8,387 L566.6,391.5 L587.8,396 L617.6,405 L638.8,414 L655.2,423 L668.6,432 L680,441 L689.8,485.8 L698.4,544 L706.2,542.6 L713.2,543.4 L719.6,542.5 L725.5,543.5 L731,544.3 L736,544.7 L740.8,542.8 L745.2,543.3 L749.4,542.5 L753.4,545.5 L757.2,543 L760.8,545.8 L764.2,542 L767.5,541.6 L770.6,543.6 L773.6,543.6 L776.5,545.2 L779.3,545.8 L781.9,544.1 L784.5,543 L787,545 L789.4,543.8 L791.8,542.8 L794,543.1 L796.2,541.6 L798.4,545 L800.4,541.8 L802.5,542.5 L804.4,544.6 L806.3,544.6 L808.2,544.6 L810,544.6 L811.8,545.4 L813.5,546.1 L815.2,546.2 L816.9,543.5 L818.5,543.3 L820.1,542.3 L821.6,543.7 L823.1,542.4 L824.6,546.1 L826.1,545.2 L827.5,542.7 L828.9,544.9 L830.3,545 L831.6,542.1 L832.9,545.5 L834.2,545.1 L835.5,543.9 L836.8,546.1 L838,542 L839.2,541.8 L840.4,545.1 L841.6,544.8 L842.8,541.6 L843.9,544.5 L845,544.4 L846.1,543.4 L847.2,542.2 L848.3,545.5 L849.4,545.9 L850.4,544.3 L851.4,542.7 L852.4,544.2 L853.4,544.7 L854.4,544.1 L855.4,545.5 L856.4,542.7 L857.3,545.8 L858.3,545 L859.2,542.2" fill="none" stroke="#2a788e" stroke-width="2.6" stroke-linejoin="round" stroke-linecap="round"/>
<path d="M367.4,367.8 L536.8,367.8 L566.6,371.6 L587.8,375.3 L617.6,382.8 L638.8,390.3 L655.2,397.8 L668.6,405.3 L680,412.8 L689.8,420.3 L698.4,476.8 L706.2,550 L713.2,547.8 L719.6,548.3 L725.5,550.8 L731,549.8 L736,547.7 L740.8,549.4 L745.2,550.2 L749.4,549.7 L753.4,551.7 L757.2,549.4 L760.8,550.1 L764.2,551.3 L767.5,550 L770.6,556.8 L773.6,552.1 L776.5,549 L779.3,550.1 L781.9,551.7 L784.5,552.1 L787,548.1 L789.4,551.4 L791.8,549.2 L794,551 L796.2,551.7 L798.4,547.8 L800.4,549.4 L802.5,550.5 L804.4,550.2 L806.3,550 L808.2,552.2 L810,547.8 L811.8,550.5 L813.5,548.2 L815.2,550.8 L816.9,551.5 L818.5,550.2 L820.1,561.1 L821.6,552.3 L823.1,551.1 L824.6,551.9 L826.1,549.2 L827.5,550 L828.9,551 L830.3,551.7 L831.6,551 L832.9,548.6 L834.2,549.5 L835.5,550.4 L836.8,550.4 L838,549.2 L839.2,548.5 L840.4,551.6 L841.6,552.2 L842.8,552.2 L843.9,548.5 L845,549.4 L846.1,548.7 L847.2,558.7 L848.3,550.5 L849.4,552 L850.4,552.2 L851.4,548.9 L852.4,551.3 L853.4,547.6 L854.4,548.2 L855.4,548.6 L856.4,547.7 L857.3,549.2 L858.3,548.2 L859.2,550.9" fill="none" stroke="#277e8e" stroke-width="2.6" stroke-linejoin="round" stroke-linecap="round"/>
<path d="M367.4,368.6 L536.8,368.6 L566.6,372.4 L587.8,376.1 L617.6,383.6 L638.8,391.1 L655.2,398.6 L668.6,406.1 L680,413.6 L689.8,474.3 L698.4,589 L706.2,554.1 L713.2,553.1 L719.6,552.4 L725.5,551.7 L731,551.6 L736,552 L740.8,550.6 L745.2,551.9 L749.4,551.2 L753.4,551.2 L757.2,552.3 L760.8,554.8 L764.2,550.6 L767.5,554.5 L770.6,553.9 L773.6,555.5 L776.5,554.8 L779.3,551.4 L781.9,554.4 L784.5,552.3 L787,553.8 L789.4,564.4 L791.8,552.9 L794,552.9 L796.2,552.2 L798.4,555.2 L800.4,561.1 L802.5,550.7 L804.4,551.6 L806.3,551.7 L808.2,554.4 L810,551.8 L811.8,550.3 L813.5,554.1 L815.2,550.6 L816.9,553 L818.5,550.1 L820.1,551.6 L821.6,551 L823.1,552.8 L824.6,553.7 L826.1,554.1 L827.5,553.9 L828.9,550.1 L830.3,553.9 L831.6,555.6 L832.9,553.5 L834.2,551.3 L835.5,550.4 L836.8,553.9 L838,551.2 L839.2,554.5 L840.4,551.9 L841.6,551.6 L842.8,554.4 L843.9,553.8 L845,551.7 L846.1,552.6 L847.2,550.4 L848.3,550.9 L849.4,555.6 L850.4,555.2 L851.4,552.8 L852.4,551.9 L853.4,552.7 L854.4,555.8 L855.4,554 L856.4,562 L857.3,551.9 L858.3,553.6 L859.2,551.8" fill="none" stroke="#25848e" stroke-width="2.6" stroke-linejoin="round" stroke-linecap="round"/>
<path d="M367.4,369.5 L536.8,369.5 L566.6,373.5 L587.8,377.5 L617.6,385.5 L638.8,393.5 L655.2,401.5 L668.6,409.5 L680,466.7 L689.8,575 L698.4,542.9 L706.2,541.9 L713.2,542.3 L719.6,542.9 L725.5,539.8 L731,541.7 L736,542.9 L740.8,542.8 L745.2,541.4 L749.4,539.4 L753.4,540.6 L757.2,543.4 L760.8,539.1 L764.2,540.1 L767.5,543.2 L770.6,540.8 L773.6,539.6 L776.5,540.1 L779.3,543 L781.9,540.2 L784.5,540.7 L787,541.6 L789.4,542.5 L791.8,541 L794,539 L796.2,541.4 L798.4,538.8 L800.4,539.1 L802.5,539.5 L804.4,541.9 L806.3,540 L808.2,541.9 L810,539.4 L811.8,539.2 L813.5,538.7 L815.2,542 L816.9,542.7 L818.5,539.7 L820.1,539.7 L821.6,538.7 L823.1,541.7 L824.6,540 L826.1,539.3 L827.5,541.7 L828.9,541.5 L830.3,540.7 L831.6,539.3 L832.9,541.7 L834.2,541.3 L835.5,540.7 L836.8,539.4 L838,543.1 L839.2,542.7 L840.4,541.9 L841.6,543.4 L842.8,541.4 L843.9,540.3 L845,539.2 L846.1,541.5 L847.2,541.1 L848.3,540.7 L849.4,543.4 L850.4,542.6 L851.4,539.2 L852.4,542.8 L853.4,538.6 L854.4,541.7 L855.4,540.1 L856.4,542.1 L857.3,543.2 L858.3,541.1 L859.2,542.3" fill="none" stroke="#238a8d" stroke-width="2.6" stroke-linejoin="round" stroke-linecap="round"/>
<path d="M367.4,404.5 L536.8,404.5 L566.6,411 L587.8,417.5 L617.6,430.5 L638.8,443.5 L655.2,456.5 L668.6,493.7 L680,560 L689.8,541.6 L698.4,542.2 L706.2,543.7 L713.2,540.4 L719.6,540.7 L725.5,539.7 L731,540.2 L736,539.6 L740.8,540.4 L745.2,542.1 L749.4,544.3 L753.4,542.9 L757.2,541.4 L760.8,541.5 L764.2,542.9 L767.5,541.2 L770.6,540 L773.6,543.6 L776.5,542.6 L779.3,540.1 L781.9,539.9 L784.5,540.1 L787,544.2 L789.4,540.1 L791.8,542.6 L794,544.3 L796.2,539.8 L798.4,541.5 L800.4,541.9 L802.5,544 L804.4,540.5 L806.3,540.8 L808.2,540.8 L810,539.8 L811.8,542.8 L813.5,543.5 L815.2,541.7 L816.9,539.8 L818.5,543 L820.1,543.1 L821.6,542.7 L823.1,541.2 L824.6,543.6 L826.1,542.6 L827.5,542.4 L828.9,542.2 L830.3,540.7 L831.6,541.8 L832.9,543.4 L834.2,542.9 L835.5,541.3 L836.8,543.5 L838,543.6 L839.2,539.8 L840.4,540.4 L841.6,540.7 L842.8,539.7 L843.9,543.2 L845,542.7 L846.1,542.2 L847.2,544.4 L848.3,541.3 L849.4,540.6 L850.4,540.1 L851.4,541.2 L852.4,543.6 L853.4,542.5 L854.4,539.9 L855.4,541.7 L856.4,539.8 L857.3,542.6 L858.3,540.2 L859.2,540.5" fill="none" stroke="#21918c" stroke-width="2.6" stroke-linejoin="round" stroke-linecap="round"/>
<path d="M367.4,405.5 L536.8,405.5 L566.6,412 L587.8,418.5 L617.6,431.5 L638.8,444.5 L655.2,457.5 L668.6,493.4 L680,570 L689.8,540.7 L698.4,541 L706.2,542.2 L713.2,538.5 L719.6,537.9 L725.5,541.6 L731,539.2 L736,539.4 L740.8,541.5 L745.2,538.5 L749.4,542 L753.4,540 L757.2,537.9 L760.8,542 L764.2,540.4 L767.5,538 L770.6,541.6 L773.6,541.3 L776.5,541.2 L779.3,540.8 L781.9,542.4 L784.5,537.7 L787,542.3 L789.4,540.7 L791.8,538.8 L794,540.5 L796.2,539.2 L798.4,540.7 L800.4,541 L802.5,540.1 L804.4,538.1 L806.3,539.5 L808.2,539 L810,541.2 L811.8,542.1 L813.5,541.3 L815.2,540.1 L816.9,538.4 L818.5,541 L820.1,538.9 L821.6,542.4 L823.1,538.4 L824.6,542.2 L826.1,537.7 L827.5,541.3 L828.9,539.3 L830.3,540.4 L831.6,539.6 L832.9,539.1 L834.2,539.7 L835.5,541.5 L836.8,539.3 L838,539.3 L839.2,541.4 L840.4,538.5 L841.6,539.3 L842.8,540.1 L843.9,540.1 L845,538.4 L846.1,541.3 L847.2,539.9 L848.3,538 L849.4,539.2 L850.4,537.9 L851.4,539.2 L852.4,538.1 L853.4,538.8 L854.4,540.3 L855.4,540.9 L856.4,539 L857.3,539.8 L858.3,540.1 L859.2,540.4" fill="none" stroke="#1f968b" stroke-width="2.6" stroke-linejoin="round" stroke-linecap="round"/>
<path d="M367.4,428 L536.8,428 L566.6,431 L587.8,434 L617.6,440 L638.8,446 L655.2,452 L668.6,489.4 L680,566 L689.8,538.2 L698.4,537.5 L706.2,539.1 L713.2,537.3 L719.6,538 L725.5,537.5 L731,537.7 L736,539.5 L740.8,536.7 L745.2,537.8 L749.4,537.1 L753.4,537.5 L757.2,539.6 L760.8,537.5 L764.2,538.3 L767.5,537.7 L770.6,538.7 L773.6,537.8 L776.5,536.9 L779.3,537.8 L781.9,537.7 L784.5,538.9 L787,538.2 L789.4,537 L791.8,538.6 L794,537.4 L796.2,538 L798.4,537.1 L800.4,537.7 L802.5,538.9 L804.4,538.1 L806.3,538.8 L808.2,538.8 L810,538.3 L811.8,538.5 L813.5,537.7 L815.2,538.4 L816.9,538.9 L818.5,536.7 L820.1,539.4 L821.6,537.6 L823.1,536.8 L824.6,536.9 L826.1,537.5 L827.5,536.6 L828.9,537.7 L830.3,537.7 L831.6,538.5 L832.9,537.9 L834.2,539.4 L835.5,538.5 L836.8,537.4 L838,539.2 L839.2,538.6 L840.4,539.5 L841.6,538.7 L842.8,539.5 L843.9,537.1 L845,537.3 L846.1,539.5 L847.2,536.5 L848.3,539.4 L849.4,539.3 L850.4,536.8 L851.4,536.9 L852.4,539.3 L853.4,539.5 L854.4,539.2 L855.4,538.7 L856.4,538.8 L857.3,537.4 L858.3,536.4 L859.2,538.4" fill="none" stroke="#1e9c89" stroke-width="2.6" stroke-linejoin="round" stroke-linecap="round"/>
<path d="M367.4,396 L536.8,396 L566.6,404 L587.8,412 L617.6,428 L638.8,444 L655.2,460 L668.6,493.5 L680,537 L689.8,537.7 L698.4,538.1 L706.2,536 L713.2,538.6 L719.6,536 L725.5,537.5 L731,535.7 L736,537.8 L740.8,535.9 L745.2,537.7 L749.4,537.7 L753.4,537.9 L757.2,536.8 L760.8,538.2 L764.2,538.6 L767.5,535.8 L770.6,537.1 L773.6,538.5 L776.5,537.8 L779.3,536.8 L781.9,536.4 L784.5,538.4 L787,535.7 L789.4,537.8 L791.8,538.1 L794,535.9 L796.2,536.4 L798.4,536.4 L800.4,537.1 L802.5,536.6 L804.4,538.3 L806.3,538.4 L808.2,536.4 L810,538.3 L811.8,535.6 L813.5,535.7 L815.2,537.5 L816.9,538 L818.5,538 L820.1,538.6 L821.6,538.2 L823.1,536.3 L824.6,537.8 L826.1,538.4 L827.5,535.7 L828.9,537 L830.3,535.9 L831.6,535.9 L832.9,536.9 L834.2,537.5 L835.5,538.5 L836.8,535.8 L838,537 L839.2,538.6 L840.4,537.8 L841.6,537.1 L842.8,536.2 L843.9,537.4 L845,536.2 L846.1,537.5 L847.2,537.5 L848.3,536.7 L849.4,537.9 L850.4,536.7 L851.4,536.9 L852.4,538.1 L853.4,536.2 L854.4,536 L855.4,537.2 L856.4,536.8 L857.3,538.2 L858.3,536.2 L859.2,536.6" fill="none" stroke="#1fa287" stroke-width="2.6" stroke-linejoin="round" stroke-linecap="round"/>
<path d="M367.4,399.5 L536.8,399.5 L566.6,407.5 L587.8,415.5 L617.6,431.5 L638.8,447.5 L655.2,463.5 L668.6,495.1 L680,536 L689.8,535.6 L698.4,537.4 L706.2,537.1 L713.2,535.1 L719.6,537.2 L725.5,536.4 L731,534.5 L736,537.4 L740.8,535.2 L745.2,535.4 L749.4,535.8 L753.4,536.3 L757.2,534.8 L760.8,536.6 L764.2,537.1 L767.5,536 L770.6,536.9 L773.6,536.4 L776.5,537 L779.3,535 L781.9,535.5 L784.5,535.9 L787,534.7 L789.4,537.5 L791.8,536.4 L794,534.7 L796.2,536.3 L798.4,535.7 L800.4,535 L802.5,534.9 L804.4,535.9 L806.3,534.6 L808.2,536.2 L810,536 L811.8,534.8 L813.5,537.2 L815.2,534.5 L816.9,535 L818.5,537 L820.1,535.1 L821.6,535.8 L823.1,536.2 L824.6,535.8 L826.1,536 L827.5,536 L828.9,535.9 L830.3,534.6 L831.6,537 L832.9,535.3 L834.2,534.6 L835.5,535.7 L836.8,537 L838,536.4 L839.2,535.9 L840.4,535.9 L841.6,535.1 L842.8,536.4 L843.9,535.5 L845,534.6 L846.1,534.8 L847.2,534.7 L848.3,536.6 L849.4,537.2 L850.4,536.8 L851.4,535.1 L852.4,534.9 L853.4,537.4 L854.4,535.6 L855.4,534.9 L856.4,536.2 L857.3,536.4 L858.3,536.1 L859.2,535.8" fill="none" stroke="#22a884" stroke-width="2.6" stroke-linejoin="round" stroke-linecap="round"/>
<path d="M367.4,395.2 L536.8,395.2 L566.6,403.7 L587.8,412.2 L617.6,429.2 L638.8,446.2 L655.2,484.4 L668.6,534 L680,535.4 L689.8,535.4 L698.4,535.3 L706.2,532.7 L713.2,534.3 L719.6,533.8 L725.5,534.1 L731,532.8 L736,533 L740.8,533.8 L745.2,533.1 L749.4,533.9 L753.4,532.5 L757.2,532.7 L760.8,534.7 L764.2,533.7 L767.5,534 L770.6,534.7 L773.6,533.5 L776.5,532.6 L779.3,534.9 L781.9,534.3 L784.5,534.5 L787,534.4 L789.4,535.5 L791.8,533.6 L794,534.8 L796.2,533.6 L798.4,534.2 L800.4,534.5 L802.5,533.4 L804.4,532.7 L806.3,533.9 L808.2,534.7 L810,534.3 L811.8,533.8 L813.5,534.5 L815.2,533 L816.9,533 L818.5,533.4 L820.1,535 L821.6,533 L823.1,532.8 L824.6,532.7 L826.1,532.5 L827.5,533.3 L828.9,534.2 L830.3,535 L831.6,533.5 L832.9,533.6 L834.2,533.3 L835.5,533.4 L836.8,534.9 L838,534.2 L839.2,533.2 L840.4,532.7 L841.6,534.9 L842.8,534.7 L843.9,535.1 L845,533.2 L846.1,534.1 L847.2,535.3 L848.3,534.3 L849.4,535.4 L850.4,532.9 L851.4,535.5 L852.4,532.6 L853.4,533.7 L854.4,532.5 L855.4,535 L856.4,534.6 L857.3,535.5 L858.3,535 L859.2,535.4" fill="none" stroke="#28ae80" stroke-width="2.6" stroke-linejoin="round" stroke-linecap="round"/>
<path d="M367.4,400 L536.8,400 L566.6,408 L587.8,416 L617.6,432 L638.8,448 L655.2,484.6 L668.6,532 L680,532.1 L689.8,531.3 L698.4,530.5 L706.2,532.5 L713.2,531.1 L719.6,531.2 L725.5,531.7 L731,532.5 L736,533.6 L740.8,531.9 L745.2,533.6 L749.4,533.6 L753.4,531.2 L757.2,530.6 L760.8,530.9 L764.2,533.1 L767.5,532.3 L770.6,533.3 L773.6,533.5 L776.5,532.5 L779.3,532.1 L781.9,530.6 L784.5,530.5 L787,533 L789.4,532.6 L791.8,532.8 L794,532.2 L796.2,532.6 L798.4,532.4 L800.4,533.3 L802.5,530.8 L804.4,532 L806.3,531.4 L808.2,533.1 L810,533.2 L811.8,531.2 L813.5,530.7 L815.2,531.2 L816.9,531.4 L818.5,532.9 L820.1,531.7 L821.6,532.8 L823.1,531.4 L824.6,532.1 L826.1,531 L827.5,532.5 L828.9,532 L830.3,533.2 L831.6,533.4 L832.9,532.1 L834.2,530.6 L835.5,533.4 L836.8,533.4 L838,531.9 L839.2,532 L840.4,533.4 L841.6,531.2 L842.8,531.2 L843.9,532.6 L845,532.6 L846.1,532.6 L847.2,533 L848.3,532 L849.4,531.7 L850.4,531.1 L851.4,531.1 L852.4,531.6 L853.4,531.8 L854.4,532.8 L855.4,532.4 L856.4,532 L857.3,531.6 L858.3,532.4 L859.2,531.6" fill="none" stroke="#2fb47c" stroke-width="2.6" stroke-linejoin="round" stroke-linecap="round"/>
<path d="M367.4,403 L536.8,403 L566.6,410.5 L587.8,418 L617.6,433 L638.8,448 L655.2,484.1 L668.6,531 L680,531.8 L689.8,530 L698.4,530.1 L706.2,531.3 L713.2,529.6 L719.6,531.9 L725.5,531.8 L731,529.5 L736,531.6 L740.8,531 L745.2,531.4 L749.4,532.5 L753.4,532.6 L757.2,530.7 L760.8,532.1 L764.2,531.9 L767.5,532.5 L770.6,529.5 L773.6,532.4 L776.5,530.1 L779.3,529.8 L781.9,531.3 L784.5,532.1 L787,532.5 L789.4,530.6 L791.8,532 L794,529.5 L796.2,532.5 L798.4,530.3 L800.4,531.1 L802.5,529.8 L804.4,529.5 L806.3,529.4 L808.2,531.3 L810,531.2 L811.8,532 L813.5,532.1 L815.2,530.8 L816.9,532.1 L818.5,530 L820.1,532.2 L821.6,530.2 L823.1,532.4 L824.6,530.6 L826.1,530.8 L827.5,531.1 L828.9,529.6 L830.3,529.6 L831.6,531.1 L832.9,531.7 L834.2,529.5 L835.5,530.7 L836.8,530.6 L838,531.9 L839.2,532.6 L840.4,529.7 L841.6,531.1 L842.8,529.7 L843.9,531.9 L845,532.4 L846.1,531.7 L847.2,531.3 L848.3,529.5 L849.4,529.7 L850.4,530.2 L851.4,529.7 L852.4,529.8 L853.4,532.5 L854.4,530.5 L855.4,532.3 L856.4,531.8 L857.3,531.9 L858.3,532.3 L859.2,531.6" fill="none" stroke="#38b977" stroke-width="2.6" stroke-linejoin="round" stroke-linecap="round"/>
<path d="M367.4,398 L536.8,398 L566.6,406.5 L587.8,415 L617.6,432 L638.8,449 L655.2,483.8 L668.6,529 L680,527.4 L689.8,527.8 L698.4,528.7 L706.2,529.6 L713.2,527.8 L719.6,527.8 L725.5,528.1 L731,529.8 L736,527.9 L740.8,529.8 L745.2,529.5 L749.4,527.8 L753.4,529.1 L757.2,528.8 L760.8,528.7 L764.2,530.6 L767.5,527.7 L770.6,527.5 L773.6,530.4 L776.5,528.7 L779.3,528 L781.9,528.5 L784.5,528.6 L787,530.5 L789.4,528.1 L791.8,528.1 L794,529.3 L796.2,529.2 L798.4,530.5 L800.4,530.1 L802.5,528.5 L804.4,528.1 L806.3,530.1 L808.2,530.6 L810,527.5 L811.8,529.8 L813.5,530.2 L815.2,529.5 L816.9,528.1 L818.5,529.9 L820.1,529.7 L821.6,528 L823.1,529.5 L824.6,528.1 L826.1,527.5 L827.5,528.5 L828.9,528.5 L830.3,528.7 L831.6,529.5 L832.9,530.1 L834.2,530.5 L835.5,530.5 L836.8,530.6 L838,529.9 L839.2,528.4 L840.4,528 L841.6,529.4 L842.8,529.1 L843.9,529.6 L845,527.7 L846.1,528 L847.2,530.3 L848.3,529.3 L849.4,529.6 L850.4,527.7 L851.4,528.7 L852.4,530.3 L853.4,529.5 L854.4,530.6 L855.4,528 L856.4,528.9 L857.3,530 L858.3,528.8 L859.2,529.9" fill="none" stroke="#44bf70" stroke-width="2.6" stroke-linejoin="round" stroke-linecap="round"/>
<path d="M367.4,455 L536.8,455 L566.6,491 L587.8,522.5 L617.6,545 L638.8,525.6 L655.2,526.1 L668.6,526.4 L680,528.3 L689.8,527 L698.4,527.7 L706.2,525.7 L713.2,527 L719.6,528.1 L725.5,527.1 L731,528.4 L736,528.2 L740.8,526.6 L745.2,525.4 L749.4,527.8 L753.4,525.8 L757.2,525.4 L760.8,527.7 L764.2,528.1 L767.5,528.1 L770.6,528.5 L773.6,526 L776.5,525.7 L779.3,525.8 L781.9,528.5 L784.5,525.8 L787,525.9 L789.4,525.5 L791.8,525.6 L794,525.5 L796.2,526.5 L798.4,525.9 L800.4,526.4 L802.5,528.4 L804.4,525.9 L806.3,528 L808.2,527.8 L810,527.2 L811.8,527.2 L813.5,527.9 L815.2,527.3 L816.9,526.1 L818.5,526.5 L820.1,526.2 L821.6,526.7 L823.1,528.6 L824.6,526.8 L826.1,525.6 L827.5,526.9 L828.9,528 L830.3,526.8 L831.6,527.6 L832.9,525.7 L834.2,525.6 L835.5,527.5 L836.8,525.6 L838,526.4 L839.2,526.6 L840.4,526 L841.6,525.5 L842.8,525.4 L843.9,528.4 L845,527.6 L846.1,528.4 L847.2,527 L848.3,528.5 L849.4,528.2 L850.4,527.4 L851.4,527.1 L852.4,527 L853.4,526.1 L854.4,526.6 L855.4,527.7 L856.4,526 L857.3,528.1 L858.3,527 L859.2,527.3" fill="none" stroke="#50c46a" stroke-width="2.6" stroke-linejoin="round" stroke-linecap="round"/>
<path d="M367.4,447.3 L536.8,447.3 L566.6,497.6 L587.8,541.6 L638.8,573 L655.2,561.2 L668.6,561.4 L680,562 L689.8,560.3 L698.4,561.5 L706.2,562.2 L713.2,573.2 L719.6,549.1 L725.5,572.5 L731,550.4 L736,572 L740.8,551.4 L745.2,572.1 L749.4,549.8 L753.4,573.3 L757.2,550.4 L760.8,571.4 L764.2,549.4 L767.5,572 L770.6,548.7 L773.6,572.3 L776.5,550.7 L779.3,571.8 L781.9,551 L784.5,573.3 L787,550.2 L789.4,572.5 L791.8,548.9 L794,570.7 L796.2,551.4 L798.4,554.7 L800.4,554.6 L802.5,555.6 L804.4,555.4 L806.3,554.4 L808.2,554.7 L810,554.6 L811.8,554.7 L813.5,554.3 L815.2,555 L816.9,554.7 L818.5,554.8 L820.1,554.5 L821.6,554.4 L823.1,554.3 L824.6,555.6 L826.1,555.4 L827.5,555.1 L828.9,554.4 L830.3,554.5 L831.6,554.4 L832.9,554.7 L834.2,554.3 L835.5,554.7 L836.8,554.6 L838,554.5 L839.2,555.2 L840.4,554.9 L841.6,555 L842.8,554.8 L843.9,555.1 L845,555.4 L846.1,554.7 L847.2,554.4 L848.3,555 L849.4,554.8 L850.4,555.4 L851.4,554.4 L852.4,555.6 L853.4,554.3 L854.4,555.1 L855.4,554.9 L856.4,554.7 L857.3,555.6 L858.3,555.3 L859.2,554.5" fill="none" stroke="#5ec962" stroke-width="2.6" stroke-linejoin="round" stroke-linecap="round"/>
<path d="M367.4,501.3 L536.8,501.3 L566.6,505.6 L587.8,512 L617.6,524.1 L638.8,524.2 L655.2,524.6 L668.6,524.7 L680,524.7 L689.8,523.8 L698.4,524.8 L706.2,523.9 L713.2,523.7 L719.6,523.3 L725.5,524 L731,523.4 L736,523.6 L740.8,524.2 L745.2,524.5 L749.4,524.5 L753.4,523.3 L757.2,523.2 L760.8,523.6 L764.2,524.1 L767.5,524.6 L770.6,524.5 L773.6,524.8 L776.5,524.2 L779.3,524.2 L781.9,523.6 L784.5,523.7 L787,523.5 L789.4,524.1 L791.8,524.2 L794,524.1 L796.2,523.8 L798.4,523.9 L800.4,523.5 L802.5,524.6 L804.4,524.1 L806.3,524.4 L808.2,524.6 L810,523.6 L811.8,523.3 L813.5,523.6 L815.2,524.7 L816.9,524.5 L818.5,523.8 L820.1,524.5 L821.6,523.7 L823.1,524.7 L824.6,523.3 L826.1,524.4 L827.5,524.9 L828.9,523.9 L830.3,523.9 L831.6,523.3 L832.9,523.6 L834.2,523.5 L835.5,523.6 L836.8,523.2 L838,523.6 L839.2,523.3 L840.4,524 L841.6,523.8 L842.8,523.5 L843.9,524.8 L845,523.7 L846.1,524.1 L847.2,524.7 L848.3,524.5 L849.4,524.8 L850.4,524.2 L851.4,524.7 L852.4,523.2 L853.4,524.4 L854.4,523.7 L855.4,523.7 L856.4,524.5 L857.3,524.4 L858.3,523.7 L859.2,523.8" fill="none" stroke="#6ccd5a" stroke-width="2.6" stroke-linejoin="round" stroke-linecap="round"/>
<path d="M367.4,436.7 L536.8,436.7 L566.6,478 L587.8,514.2 L617.6,540 L638.8,522.1 L655.2,522.5 L668.6,522.4 L680,522.7 L689.8,521.6 L698.4,522.8 L706.2,522.1 L713.2,522.4 L719.6,522.5 L725.5,522.8 L731,521.6 L736,521.8 L740.8,522.4 L745.2,522.2 L749.4,522.5 L753.4,521.8 L757.2,522.8 L760.8,521.1 L764.2,522.4 L767.5,521.8 L770.6,521.1 L773.6,522.3 L776.5,521.2 L779.3,521.5 L781.9,521.7 L784.5,521.4 L787,521.4 L789.4,521.2 L791.8,522.6 L794,521.2 L796.2,521.4 L798.4,521.2 L800.4,522.7 L802.5,522.1 L804.4,522.6 L806.3,522.9 L808.2,522 L810,521.8 L811.8,521.8 L813.5,521.6 L815.2,522.2 L816.9,522.8 L818.5,522 L820.1,522.5 L821.6,522.7 L823.1,522.6 L824.6,522.3 L826.1,522.1 L827.5,521.3 L828.9,521.8 L830.3,522.6 L831.6,521.9 L832.9,522.3 L834.2,521.6 L835.5,522.1 L836.8,521.5 L838,522.5 L839.2,522.6 L840.4,521.1 L841.6,522.3 L842.8,521.3 L843.9,522.8 L845,521.4 L846.1,521.3 L847.2,522.7 L848.3,522.2 L849.4,521.1 L850.4,521.9 L851.4,522.6 L852.4,521.4 L853.4,522.5 L854.4,521.6 L855.4,521.9 L856.4,521.8 L857.3,521.2 L858.3,521.8 L859.2,522" fill="none" stroke="#7ad151" stroke-width="2.6" stroke-linejoin="round" stroke-linecap="round"/>
<path d="M367.4,493 L536.8,493 L566.6,501.8 L587.8,515 L617.6,519.7 L638.8,520.9 L655.2,520.8 L668.6,520.8 L680,520.5 L689.8,520.7 L698.4,519.1 L706.2,520.2 L713.2,519.5 L719.6,520.4 L725.5,519.9 L731,520.1 L736,520.1 L740.8,520.1 L745.2,520.6 L749.4,520.9 L753.4,519.7 L757.2,520.6 L760.8,520.7 L764.2,519.8 L767.5,519.3 L770.6,520 L773.6,520.5 L776.5,520 L779.3,519.4 L781.9,520.4 L784.5,519.7 L787,520.7 L789.4,519.4 L791.8,520.2 L794,519.8 L796.2,520.9 L798.4,519.3 L800.4,520.7 L802.5,519.9 L804.4,519.8 L806.3,519.5 L808.2,520 L810,520.8 L811.8,520.9 L813.5,520.8 L815.2,520.2 L816.9,519.5 L818.5,520 L820.1,520.3 L821.6,519.6 L823.1,520.9 L824.6,519.3 L826.1,519.5 L827.5,519.5 L828.9,519.4 L830.3,519.2 L831.6,519.5 L832.9,519.8 L834.2,520.8 L835.5,520.1 L836.8,520.2 L838,519.7 L839.2,519.4 L840.4,520.1 L841.6,520.4 L842.8,519.3 L843.9,520.3 L845,519.5 L846.1,520.3 L847.2,519.7 L848.3,519.4 L849.4,519.4 L850.4,520.5 L851.4,520.1 L852.4,519.3 L853.4,520.7 L854.4,519.6 L855.4,519.6 L856.4,519.1 L857.3,519.6 L858.3,520.1 L859.2,520.7" fill="none" stroke="#8bd646" stroke-width="2.6" stroke-linejoin="round" stroke-linecap="round"/>
<path d="M367.4,417.4 L536.8,417.4 L566.6,462.4 L587.8,501.9 L617.6,530 L638.8,519.8 L655.2,518.8 L668.6,519.7 L680,520.1 L689.8,520.1 L698.4,519.5 L706.2,519.7 L713.2,519.3 L719.6,519.6 L725.5,518.8 L731,519.8 L736,519.7 L740.8,519.1 L745.2,519.3 L749.4,519.9 L753.4,519.4 L757.2,520.3 L760.8,520.3 L764.2,520.1 L767.5,518.8 L770.6,518.7 L773.6,519.1 L776.5,519.2 L779.3,519.9 L781.9,520.1 L784.5,519.6 L787,519.8 L789.4,519.6 L791.8,518.7 L794,519.5 L796.2,519 L798.4,519.4 L800.4,518.6 L802.5,519.8 L804.4,520.2 L806.3,518.7 L808.2,519.6 L810,518.6 L811.8,519.2 L813.5,518.9 L815.2,520.1 L816.9,519.9 L818.5,520.2 L820.1,519 L821.6,519.9 L823.1,519.9 L824.6,519.5 L826.1,520.2 L827.5,519.7 L828.9,519.1 L830.3,519.9 L831.6,519.5 L832.9,519 L834.2,519.7 L835.5,518.7 L836.8,519.4 L838,519.6 L839.2,518.6 L840.4,519.8 L841.6,518.8 L842.8,519.8 L843.9,519.2 L845,518.7 L846.1,520.4 L847.2,518.7 L848.3,518.9 L849.4,519.5 L850.4,519 L851.4,519.6 L852.4,519.5 L853.4,519.6 L854.4,519.6 L855.4,519.1 L856.4,519 L857.3,519.9 L858.3,519.4 L859.2,519.5" fill="none" stroke="#9bd93c" stroke-width="2.6" stroke-linejoin="round" stroke-linecap="round"/>
<path d="M367.4,463.8 L537,463.8 L617,540.8 L637.6,559.6 L654.6,551.5 L668.5,562.8 L681.2,555 L700,556 L720,548 L745,545 L765,536 L781,528 L802.9,510.9 L805.9,446.5 L820.3,446.5 L823.3,437.4 L821.9,440 L825.9,436.3 L831.5,431.9 L838.1,426.2 L845.2,419.3 L852.4,410.6 L859.1,400 L865.5,386.8 L872.1,371.1 L878.7,353.8 L885.2,335.6 L891.5,317.4 L897.3,300 L902.9,282.4 L908.4,263.7 L913.6,245 L918.4,227.4 L922.6,212 L925.9,200 L928.2,191.8 L929.7,186.7 L930.4,183.8 L930.8,182.2 L931.1,181.2 L931.4,180 L933.6,172.9 L935.9,166.3 L938.4,160.4 L941.2,155.2 L944.1,150.5 L947.2,146.5 L950.5,143.1 L953.9,140.3 L957.6,138.1 L961.5,136.5 L965.5,135.6 L969.8,135.3 L984.3,135.3 L1003.5,135" fill="none" stroke="#c5e021" stroke-width="2.6" stroke-linejoin="round" stroke-linecap="round"/>
<circle cx="984.3" cy="135.3" r="5.6" fill="none" stroke="#262626" stroke-width="1.7"/>
<path d="M367.4,397.7 L537,397.7 L600,521 L650,520 L711,520 L739.2,507.9 L744.5,446.5 L756.7,446.5 L760.5,437.4 L762,440 L765.8,436.3 L770.9,431.9 L777,426.2 L783.7,419.3 L790.5,410.6 L797,400 L803.4,386.8 L810.2,371.1 L817.1,353.8 L823.9,335.6 L830.4,317.4 L836.4,300 L842,282.6 L847.5,264.3 L852.7,245.9 L857.5,228.5 L861.7,212.9 L865.3,200 L868.1,190 L870.3,182.2 L871.9,176.2 L873.1,171.7 L874.1,168.1 L874.9,165 L877.2,157.1 L879.5,149.9 L881.9,143.3 L884.3,137.5 L886.8,132.3 L889.3,127.9 L891.9,124.1 L894.5,121 L897.2,118.6 L899.9,116.9 L902.6,115.8 L905.5,115.5 L917.3,115.5 L922.5,112" fill="none" stroke="#cde11d" stroke-width="2.6" stroke-linejoin="round" stroke-linecap="round"/>
<circle cx="917.3" cy="115.5" r="5.6" fill="none" stroke="#262626" stroke-width="1.7"/>
<path d="M367.4,516 L537,516 L590,518 L640,521 L690,520 L710.5,520 L712.7,446.5 L724.8,446.5 L728.9,440 L732.4,436.3 L737.1,431.9 L742.7,426.2 L748.9,419.3 L755.4,410.6 L762,400 L769,386.8 L776.7,371.1 L784.7,353.8 L792.6,335.6 L799.9,317.4 L806.4,300 L812,282.6 L817,264.3 L821.5,245.9 L825.5,228.5 L829,212.9 L832.2,200 L834.9,190 L837,182.2 L838.6,176.2 L840,171.7 L841,168.1 L841.9,165 L844.3,156.7 L846.7,149.1 L849.2,142.2 L851.7,136.1 L854.3,130.7 L856.9,126 L859.5,122 L862.2,118.8 L864.9,116.2 L867.6,114.4 L870.4,113.4 L873.2,113 L882,113 L922.5,110" fill="none" stroke="#d8e219" stroke-width="2.6" stroke-linejoin="round" stroke-linecap="round"/>
<circle cx="882" cy="113" r="5.6" fill="none" stroke="#262626" stroke-width="1.7"/>
<path d="M367.4,458 L537,458 L600,520 L640,518 L672,522 L701.4,520 L705.9,438.2 L709.2,440 L712.6,436.3 L717.1,431.9 L722.6,426.2 L728.6,419.3 L735,410.6 L741.3,400 L748,386.8 L755.3,371.1 L762.9,353.8 L770.5,335.6 L777.5,317.4 L783.7,300 L789.1,282.6 L794,264.3 L798.4,245.9 L802.3,228.5 L805.8,212.9 L808.8,200 L811.3,190 L813.2,182.2 L814.7,176.2 L815.8,171.7 L816.7,168.1 L817.5,165 L819.8,156.2 L822.1,148.2 L824.5,140.9 L826.9,134.4 L829.4,128.7 L832,123.8 L834.5,119.5 L837.2,116.1 L839.8,113.4 L842.5,111.5 L845.3,110.4 L848.1,110 L858.7,110 L922.5,107.5" fill="none" stroke="#dfe318" stroke-width="2.6" stroke-linejoin="round" stroke-linecap="round"/>
<circle cx="858.7" cy="110" r="5.6" fill="none" stroke="#262626" stroke-width="1.7"/>
<path d="M367.4,444 L537,444 L595,522 L630,520 L655,528 L680,448 L684,447 L688.6,440 L692.2,436.3 L697.1,431.9 L702.9,426.2 L709.3,419.3 L716,410.6 L722.7,400 L729.8,386.8 L737.6,371.1 L745.6,353.8 L753.5,335.6 L760.9,317.4 L767.1,300 L772.3,282.6 L776.7,264.3 L780.5,245.9 L783.9,228.5 L786.8,212.9 L789.5,200 L791.8,190 L793.8,182.2 L795.3,176.2 L796.5,171.7 L797.5,168.1 L798.2,165 L800.6,155.9 L803.1,147.6 L805.5,140.1 L808,133.4 L810.6,127.5 L813.2,122.4 L815.8,118.1 L818.4,114.5 L821.1,111.8 L823.9,109.8 L826.6,108.6 L829.5,108.2 L841.3,108.2 L922.5,105.7" fill="none" stroke="#e7e419" stroke-width="2.6" stroke-linejoin="round" stroke-linecap="round"/>
<circle cx="841.3" cy="108.2" r="5.6" fill="none" stroke="#262626" stroke-width="1.7"/>
<path d="M367.4,431.9 L537,431.9 L590,525 L617,523.7 L639,530 L667.8,448 L671,447 L675,440 L678.7,436.3 L683.9,431.9 L689.9,426.2 L696.6,419.3 L703.5,410.6 L710.3,400 L717.3,386.8 L725,371.1 L732.8,353.8 L740.5,335.6 L747.6,317.4 L753.7,300 L758.8,282.6 L763.2,264.3 L767,245.9 L770.3,228.5 L773.2,212.9 L775.8,200 L778,190 L779.7,182.2 L781,176.2 L782,171.7 L782.8,168.1 L783.5,165 L785.6,155.8 L787.8,147.4 L790.1,139.8 L792.4,133.1 L794.8,127.1 L797.2,121.9 L799.7,117.5 L802.3,113.9 L804.9,111.1 L807.6,109.1 L810.3,107.9 L813.1,107.5 L827.3,107.5 L922.5,105" fill="none" stroke="#efe51c" stroke-width="2.6" stroke-linejoin="round" stroke-linecap="round"/>
<circle cx="827.3" cy="107.5" r="5.6" fill="none" stroke="#262626" stroke-width="1.7"/>
<path d="M367.4,420.3 L537,420.3 L584.8,543.4 L604,530 L617,516.6 L652.6,448 L656,447 L660.7,440 L664.9,436.3 L670.8,431.9 L677.7,426.2 L685.2,419.3 L692.8,410.6 L700,400 L707.1,386.8 L714.6,371.1 L722.2,353.8 L729.6,335.6 L736.4,317.4 L742.3,300 L747.4,282.6 L751.8,264.3 L755.7,245.9 L759.1,228.5 L762,212.9 L764.7,200 L766.9,190 L768.7,182.2 L770,176.2 L771,171.7 L771.8,168.1 L772.5,165 L774.7,155.5 L777,146.9 L779.3,139.1 L781.7,132.1 L784.1,125.9 L786.6,120.6 L789.1,116.1 L791.7,112.4 L794.4,109.5 L797.1,107.4 L799.8,106.2 L802.6,105.8 L816.1,105.8 L922.5,103.8" fill="none" stroke="#f6e620" stroke-width="2.6" stroke-linejoin="round" stroke-linecap="round"/>
<circle cx="816.1" cy="105.8" r="5.6" fill="none" stroke="#262626" stroke-width="1.7"/>
<path d="M367.4,406 L537,406 L587.9,522 L604.5,542.5 L617,554.2 L637.5,448 L642,447 L649.3,440 L653.4,436.3 L659,431.9 L665.6,426.2 L672.9,419.3 L680.3,410.6 L687.5,400 L694.8,386.8 L702.6,371.1 L710.6,353.8 L718.4,335.6 L725.7,317.4 L732,300 L737.4,282.6 L742.3,264.3 L746.6,245.9 L750.4,228.5 L753.7,212.9 L756.5,200 L758.7,190 L760.3,182.2 L761.4,176.2 L762.1,171.7 L762.6,168.1 L763.1,165 L765,155.6 L767,147.1 L769.1,139.3 L771.2,132.4 L773.5,126.3 L775.8,121 L778.2,116.5 L780.6,112.8 L783.2,110 L785.8,107.9 L788.5,106.7 L791.3,106.3 L805.5,106.3 L922.5,104.3" fill="none" stroke="#fde725" stroke-width="2.6" stroke-linejoin="round" stroke-linecap="round"/>
<circle cx="805.5" cy="106.3" r="5.6" fill="none" stroke="#262626" stroke-width="1.7"/>
<polygon points="926.5,96.7 928.3,101.8 933.7,102 929.4,105.3 931,110.4 926.5,107.4 922,110.4 923.6,105.3 919.3,102 924.7,101.8" fill="#ff0000"/>
<polygon points="926.5,96.2 928.3,101.3 933.7,101.5 929.4,104.8 931,109.9 926.5,106.9 922,109.9 923.6,104.8 919.3,101.5 924.7,101.3" fill="#ff0000"/>
<polygon points="926.5,97.4 928.3,102.5 933.7,102.7 929.4,106 931,111.1 926.5,108.1 922,111.1 923.6,106 919.3,102.7 924.7,102.5" fill="#ff0000"/>
<polygon points="926.5,98.1 928.3,103.2 933.7,103.4 929.4,106.7 931,111.8 926.5,108.8 922,111.8 923.6,106.7 919.3,103.4 924.7,103.2" fill="#ff0000"/>
<polygon points="926.5,99.9 928.3,105 933.7,105.2 929.4,108.5 931,113.6 926.5,110.6 922,113.6 923.6,108.5 919.3,105.2 924.7,105" fill="#ff0000"/>
<polygon points="926.5,102.4 928.3,107.5 933.7,107.7 929.4,111 931,116.1 926.5,113.1 922,116.1 923.6,111 919.3,107.7 924.7,107.5" fill="#ff0000"/>
<polygon points="926.5,104.4 928.3,109.5 933.7,109.7 929.4,113 931,118.1 926.5,115.1 922,118.1 923.6,113 919.3,109.7 924.7,109.5" fill="#ff0000"/>
<polygon points="1007.5,127.4 1009.3,132.5 1014.7,132.7 1010.4,136 1012,141.1 1007.5,138.1 1003,141.1 1004.6,136 1000.3,132.7 1005.7,132.5" fill="#ff0000"/>
<polygon points="859.2,577 861,582.1 866.4,582.3 862.1,585.6 863.7,590.7 859.2,587.7 854.7,590.7 856.2,585.6 852,582.3 857.4,582.1" fill="#ff0000"/>
<polygon points="859.2,576 861,581.1 866.4,581.2 862.1,584.5 863.7,589.7 859.2,586.7 854.7,589.7 856.2,584.5 852,581.2 857.4,581.1" fill="#ff0000"/>
<polygon points="859.2,563.3 861,568.4 866.4,568.6 862.1,571.9 863.7,577.1 859.2,574 854.7,577.1 856.2,571.9 852,568.6 857.4,568.4" fill="#ff0000"/>
<polygon points="859.2,551.8 861,556.9 866.4,557 862.1,560.3 863.7,565.5 859.2,562.5 854.7,565.5 856.2,560.3 852,557 857.4,556.9" fill="#ff0000"/>
<polygon points="859.2,544.1 861,549.2 866.4,549.3 862.1,552.6 863.7,557.8 859.2,554.8 854.7,557.8 856.2,552.6 852,549.3 857.4,549.2" fill="#ff0000"/>
<polygon points="859.2,544.5 861,549.6 866.4,549.8 862.1,553.1 863.7,558.3 859.2,555.2 854.7,558.3 856.2,553.1 852,549.8 857.4,549.6" fill="#ff0000"/>
<polygon points="859.2,542.1 861,547.2 866.4,547.4 862.1,550.7 863.7,555.9 859.2,552.8 854.7,555.9 856.2,550.7 852,547.4 857.4,547.2" fill="#ff0000"/>
<polygon points="859.2,542.4 861,547.5 866.4,547.7 862.1,551 863.7,556.2 859.2,553.1 854.7,556.2 856.2,551 852,547.7 857.4,547.5" fill="#ff0000"/>
<polygon points="859.2,537.9 861,543 866.4,543.2 862.1,546.5 863.7,551.7 859.2,548.6 854.7,551.7 856.2,546.5 852,543.2 857.4,543" fill="#ff0000"/>
<polygon points="859.2,540.3 861,545.4 866.4,545.6 862.1,548.9 863.7,554.1 859.2,551 854.7,554.1 856.2,548.9 852,545.6 857.4,545.4" fill="#ff0000"/>
<polygon points="859.2,545.8 861,550.9 866.4,551.1 862.1,554.4 863.7,559.6 859.2,556.5 854.7,559.6 856.2,554.4 852,551.1 857.4,550.9" fill="#ff0000"/>
<polygon points="859.2,543.2 861,548.3 866.4,548.4 862.1,551.7 863.7,556.9 859.2,553.9 854.7,556.9 856.2,551.7 852,548.4 857.4,548.3" fill="#ff0000"/>
<polygon points="859.2,542.4 861,547.5 866.4,547.6 862.1,550.9 863.7,556.1 859.2,553.1 854.7,556.1 856.2,550.9 852,547.6 857.4,547.5" fill="#ff0000"/>
<polygon points="859.2,538.1 861,543.2 866.4,543.4 862.1,546.7 863.7,551.9 859.2,548.8 854.7,551.9 856.2,546.7 852,543.4 857.4,543.2" fill="#ff0000"/>
<polygon points="859.2,536.1 861,541.2 866.4,541.4 862.1,544.7 863.7,549.9 859.2,546.8 854.7,549.9 856.2,544.7 852,541.4 857.4,541.2" fill="#ff0000"/>
<polygon points="859.2,537.6 861,542.7 866.4,542.9 862.1,546.2 863.7,551.4 859.2,548.3 854.7,551.4 856.2,546.2 852,542.9 857.4,542.7" fill="#ff0000"/>
<polygon points="859.2,534.6 861,539.7 866.4,539.9 862.1,543.2 863.7,548.4 859.2,545.3 854.7,548.4 856.2,543.2 852,539.9 857.4,539.7" fill="#ff0000"/>
<polygon points="859.2,543.3 861,548.4 866.4,548.6 862.1,551.9 863.7,557.1 859.2,554 854.7,557.1 856.2,551.9 852,548.6 857.4,548.4" fill="#ff0000"/>
<polygon points="859.2,544.2 861,549.3 866.4,549.4 862.1,552.7 863.7,557.9 859.2,554.9 854.7,557.9 856.2,552.7 852,549.4 857.4,549.3" fill="#ff0000"/>
<polygon points="859.2,534.7 861,539.8 866.4,539.9 862.1,543.2 863.7,548.4 859.2,545.4 854.7,548.4 856.2,543.2 852,539.9 857.4,539.8" fill="#ff0000"/>
<polygon points="859.2,532.9 861,538 866.4,538.1 862.1,541.4 863.7,546.6 859.2,543.6 854.7,546.6 856.2,541.4 852,538.1 857.4,538" fill="#ff0000"/>
<polygon points="859.2,532.8 861,537.9 866.4,538.1 862.1,541.4 863.7,546.6 859.2,543.5 854.7,546.6 856.2,541.4 852,538.1 857.4,537.9" fill="#ff0000"/>
<polygon points="859.2,530.8 861,535.9 866.4,536.1 862.1,539.4 863.7,544.6 859.2,541.5 854.7,544.6 856.2,539.4 852,536.1 857.4,535.9" fill="#ff0000"/>
<polygon points="859.2,529 861,534.1 866.4,534.2 862.1,537.5 863.7,542.7 859.2,539.7 854.7,542.7 856.2,537.5 852,534.2 857.4,534.1" fill="#ff0000"/>
<polygon points="859.2,528.2 861,533.3 866.4,533.5 862.1,536.8 863.7,542 859.2,538.9 854.7,542 856.2,536.8 852,533.5 857.4,533.3" fill="#ff0000"/>
<polygon points="859.2,527.8 861,532.9 866.4,533.1 862.1,536.4 863.7,541.6 859.2,538.5 854.7,541.6 856.2,536.4 852,533.1 857.4,532.9" fill="#ff0000"/>
<polygon points="859.2,524 861,529.1 866.4,529.3 862.1,532.6 863.7,537.8 859.2,534.7 854.7,537.8 856.2,532.6 852,529.3 857.4,529.1" fill="#ff0000"/>
<polygon points="859.2,524 861,529.1 866.4,529.3 862.1,532.6 863.7,537.8 859.2,534.7 854.7,537.8 856.2,532.6 852,529.3 857.4,529.1" fill="#ff0000"/>
<polygon points="859.2,522.3 861,527.4 866.4,527.6 862.1,530.9 863.7,536.1 859.2,533 854.7,536.1 856.2,530.9 852,527.6 857.4,527.4" fill="#ff0000"/>
<polygon points="859.2,519.7 861,524.8 866.4,525 862.1,528.3 863.7,533.5 859.2,530.4 854.7,533.5 856.2,528.3 852,525 857.4,524.8" fill="#ff0000"/>
<polygon points="859.2,546.9 861,552 866.4,552.1 862.1,555.5 863.7,560.6 859.2,557.6 854.7,560.6 856.2,555.5 852,552.1 857.4,552" fill="#ff0000"/>
<polygon points="859.2,516.2 861,521.2 866.4,521.4 862.1,524.7 863.7,529.9 859.2,526.9 854.7,529.9 856.2,524.7 852,521.4 857.4,521.2" fill="#ff0000"/>
<polygon points="859.2,514.4 861,519.5 866.4,519.7 862.1,523 863.7,528.2 859.2,525.1 854.7,528.2 856.2,523 852,519.7 857.4,519.5" fill="#ff0000"/>
<polygon points="859.2,513.1 861,518.2 866.4,518.4 862.1,521.7 863.7,526.9 859.2,523.8 854.7,526.9 856.2,521.7 852,518.4 857.4,518.2" fill="#ff0000"/>
<polygon points="859.2,511.9 861,517 866.4,517.2 862.1,520.5 863.7,525.7 859.2,522.6 854.7,525.7 856.2,520.5 852,517.2 857.4,517" fill="#ff0000"/>
<rect x="367.4" y="79.6" width="677.4" height="546.7" fill="none" stroke="#686868" stroke-width="2.2"/>
<defs><linearGradient id="vir" x1="0" y1="0" x2="0" y2="1"><stop offset="0.000" stop-color="#440154"/><stop offset="0.025" stop-color="#460a5d"/><stop offset="0.050" stop-color="#471365"/><stop offset="0.075" stop-color="#481c6e"/><stop offset="0.100" stop-color="#482475"/><stop offset="0.125" stop-color="#472d7b"/><stop offset="0.150" stop-color="#463480"/><stop offset="0.175" stop-color="#443b84"/><stop offset="0.200" stop-color="#414487"/><stop offset="0.225" stop-color="#3e4a89"/><stop offset="0.250" stop-color="#3b528b"/><stop offset="0.275" stop-color="#38598c"/><stop offset="0.300" stop-color="#355f8d"/><stop offset="0.325" stop-color="#31668e"/><stop offset="0.350" stop-color="#2f6c8e"/><stop offset="0.375" stop-color="#2c728e"/><stop offset="0.400" stop-color="#2a788e"/><stop offset="0.425" stop-color="#277e8e"/><stop offset="0.450" stop-color="#25848e"/><stop offset="0.475" stop-color="#238a8d"/><stop offset="0.500" stop-color="#21918c"/><stop offset="0.525" stop-color="#1f968b"/><stop offset="0.550" stop-color="#1e9c89"/><stop offset="0.575" stop-color="#1fa287"/><stop offset="0.600" stop-color="#22a884"/><stop offset="0.625" stop-color="#28ae80"/><stop offset="0.650" stop-color="#2fb47c"/><stop offset="0.675" stop-color="#38b977"/><stop offset="0.700" stop-color="#44bf70"/><stop offset="0.725" stop-color="#50c46a"/><stop offset="0.750" stop-color="#5ec962"/><stop offset="0.775" stop-color="#6ccd5a"/><stop offset="0.800" stop-color="#7ad151"/><stop offset="0.825" stop-color="#8bd646"/><stop offset="0.850" stop-color="#9bd93c"/><stop offset="0.875" stop-color="#addc30"/><stop offset="0.900" stop-color="#bddf26"/><stop offset="0.925" stop-color="#cde11d"/><stop offset="0.950" stop-color="#dfe318"/><stop offset="0.975" stop-color="#efe51c"/><stop offset="1.000" stop-color="#fde725"/></linearGradient></defs>
<rect x="1088.9" y="153" width="23.5" height="474" fill="url(#vir)" stroke="#444" stroke-width="1"/>
<line x1="1112.4" y1="153" x2="1115.9" y2="153" stroke="#444" stroke-width="1.2"/>
<text x="1121.5" y="159.3" font-family="'DejaVu Sans', 'Liberation Sans', sans-serif" font-size="17.5" fill="#000">0</text>
<line x1="1112.4" y1="212.2" x2="1115.9" y2="212.2" stroke="#444" stroke-width="1.2"/>
<text x="1121.5" y="218.6" font-family="'DejaVu Sans', 'Liberation Sans', sans-serif" font-size="17.5" fill="#000">−5</text>
<line x1="1112.4" y1="271.5" x2="1115.9" y2="271.5" stroke="#444" stroke-width="1.2"/>
<text x="1121.5" y="277.8" font-family="'DejaVu Sans', 'Liberation Sans', sans-serif" font-size="17.5" fill="#000">−10</text>
<line x1="1112.4" y1="330.8" x2="1115.9" y2="330.8" stroke="#444" stroke-width="1.2"/>
<text x="1121.5" y="337.1" font-family="'DejaVu Sans', 'Liberation Sans', sans-serif" font-size="17.5" fill="#000">−15</text>
<line x1="1112.4" y1="390" x2="1115.9" y2="390" stroke="#444" stroke-width="1.2"/>
<text x="1121.5" y="396.3" font-family="'DejaVu Sans', 'Liberation Sans', sans-serif" font-size="17.5" fill="#000">−20</text>
<line x1="1112.4" y1="449.2" x2="1115.9" y2="449.2" stroke="#444" stroke-width="1.2"/>
<text x="1121.5" y="455.6" font-family="'DejaVu Sans', 'Liberation Sans', sans-serif" font-size="17.5" fill="#000">−25</text>
<line x1="1112.4" y1="508.5" x2="1115.9" y2="508.5" stroke="#444" stroke-width="1.2"/>
<text x="1121.5" y="514.8" font-family="'DejaVu Sans', 'Liberation Sans', sans-serif" font-size="17.5" fill="#000">−30</text>
<line x1="1112.4" y1="567.8" x2="1115.9" y2="567.8" stroke="#444" stroke-width="1.2"/>
<text x="1121.5" y="574" font-family="'DejaVu Sans', 'Liberation Sans', sans-serif" font-size="17.5" fill="#000">−35</text>
<line x1="1112.4" y1="627" x2="1115.9" y2="627" stroke="#444" stroke-width="1.2"/>
<text x="1121.5" y="633.3" font-family="'DejaVu Sans', 'Liberation Sans', sans-serif" font-size="17.5" fill="#000">−40</text>
<text x="1059" y="82.9" font-family="'Liberation Sans', Arial, sans-serif" font-size="25.5" fill="#1a1a1a" stroke="#1a1a1a" stroke-width="0.25" textLength="92.5" lengthAdjust="spacingAndGlyphs">Applied</text>
<text x="1059" y="119.6" font-family="'Liberation Sans', Arial, sans-serif" font-size="25.5" fill="#1a1a1a" stroke="#1a1a1a" stroke-width="0.25" textLength="134.5" lengthAdjust="spacingAndGlyphs">Voltage [V]</text>
<text x="1298.3" y="33.6" font-family="'Liberation Sans', Arial, sans-serif" font-size="41.5" font-weight="bold" fill="#000" textLength="45.7" lengthAdjust="spacingAndGlyphs">(c)</text>
<line x1="1293.8" y1="98" x2="1298.8" y2="98" stroke="#686868" stroke-width="1.6"/>
<text x="1288" y="109.3" text-anchor="end" font-family="'DejaVu Sans', 'Liberation Sans', sans-serif" font-size="31" fill="#000">10<tspan dy="-11.6" font-size="21.5">−4</tspan></text>
<line x1="1293.8" y1="190" x2="1298.8" y2="190" stroke="#686868" stroke-width="1.6"/>
<text x="1288" y="201.3" text-anchor="end" font-family="'DejaVu Sans', 'Liberation Sans', sans-serif" font-size="31" fill="#000">10<tspan dy="-11.6" font-size="21.5">−7</tspan></text>
<line x1="1293.8" y1="282" x2="1298.8" y2="282" stroke="#686868" stroke-width="1.6"/>
<text x="1288" y="293.3" text-anchor="end" font-family="'DejaVu Sans', 'Liberation Sans', sans-serif" font-size="31" fill="#000">10<tspan dy="-11.6" font-size="21.5">−10</tspan></text>
<line x1="1293.8" y1="373.9" x2="1298.8" y2="373.9" stroke="#686868" stroke-width="1.6"/>
<text x="1288" y="385.2" text-anchor="end" font-family="'DejaVu Sans', 'Liberation Sans', sans-serif" font-size="31" fill="#000">10<tspan dy="-11.6" font-size="21.5">−13</tspan></text>
<line x1="1293.8" y1="465.9" x2="1298.8" y2="465.9" stroke="#686868" stroke-width="1.6"/>
<text x="1288" y="477.2" text-anchor="end" font-family="'DejaVu Sans', 'Liberation Sans', sans-serif" font-size="31" fill="#000">10<tspan dy="-11.6" font-size="21.5">−16</tspan></text>
<line x1="1293.8" y1="557.9" x2="1298.8" y2="557.9" stroke="#686868" stroke-width="1.6"/>
<text x="1288" y="569.2" text-anchor="end" font-family="'DejaVu Sans', 'Liberation Sans', sans-serif" font-size="31" fill="#000">10<tspan dy="-11.6" font-size="21.5">−19</tspan></text>
<line x1="1302.9" y1="640.8" x2="1302.9" y2="635.8" stroke="#686868" stroke-width="1.6"/>
<text x="1302.4" y="669.5" text-anchor="middle" font-family="'DejaVu Sans', 'Liberation Sans', sans-serif" font-size="31.5" fill="#000">−10</text>
<line x1="1407.1" y1="640.8" x2="1407.1" y2="635.8" stroke="#686868" stroke-width="1.6"/>
<text x="1406.6" y="669.5" text-anchor="middle" font-family="'DejaVu Sans', 'Liberation Sans', sans-serif" font-size="31.5" fill="#000">0</text>
<line x1="1511.3" y1="640.8" x2="1511.3" y2="635.8" stroke="#686868" stroke-width="1.6"/>
<text x="1510.8" y="669.5" text-anchor="middle" font-family="'DejaVu Sans', 'Liberation Sans', sans-serif" font-size="31.5" fill="#000">10</text>
<line x1="1615.5" y1="640.8" x2="1615.5" y2="635.8" stroke="#686868" stroke-width="1.6"/>
<text x="1615" y="669.5" text-anchor="middle" font-family="'DejaVu Sans', 'Liberation Sans', sans-serif" font-size="31.5" fill="#000">20</text>
<line x1="1719.7" y1="640.8" x2="1719.7" y2="635.8" stroke="#686868" stroke-width="1.6"/>
<text x="1719.2" y="669.5" text-anchor="middle" font-family="'DejaVu Sans', 'Liberation Sans', sans-serif" font-size="31.5" fill="#000">30</text>
<line x1="1823.9" y1="640.8" x2="1823.9" y2="635.8" stroke="#686868" stroke-width="1.6"/>
<text x="1823.4" y="669.5" text-anchor="middle" font-family="'DejaVu Sans', 'Liberation Sans', sans-serif" font-size="31.5" fill="#000">40</text>
<line x1="1928.1" y1="640.8" x2="1928.1" y2="635.8" stroke="#686868" stroke-width="1.6"/>
<text x="1927.6" y="669.5" text-anchor="middle" font-family="'DejaVu Sans', 'Liberation Sans', sans-serif" font-size="31.5" fill="#000">50</text>
<line x1="2032.3" y1="640.8" x2="2032.3" y2="635.8" stroke="#686868" stroke-width="1.6"/>
<text x="2031.8" y="669.5" text-anchor="middle" font-family="'DejaVu Sans', 'Liberation Sans', sans-serif" font-size="31.5" fill="#000">60</text>
<text x="1678.2" y="712" text-anchor="middle" font-family="'DejaVu Sans', 'Liberation Sans', sans-serif" font-size="38.5" fill="#000">Reverse Bias [V]</text>
<path d="M1407.1,545 L1417.5,548.6 L1427.9,550.8 L1438.4,546.7 L1448.8,542.9 L1459.2,537 L1469.6,572.3 L1480,541.3 L1490.5,460.8 L1500.9,537.5 L1511.3,562.8 L1521.7,544.5 L1532.1,550 L1542.6,529.5 L1553,531.5 L1563.4,540.4 L1573.8,534.1 L1584.2,525.6 L1594.7,577.7 L1605.1,452 L1615.5,523.1 L1625.9,535.3 L1636.3,452 L1646.8,524 L1657.2,527.3 L1667.6,563.3 L1678,452 L1688.4,533.3 L1698.9,527 L1709.3,523.7 L1719.7,529.4 L1730.1,521.1 L1740.5,521.5 L1751,531.7 L1761.4,526 L1771.8,546.9 L1782.2,523 L1792.6,518.7 L1803.1,526.4 L1813.5,530.7 L1823.9,520.4 L1834.3,530.8 L1844.7,544.4 L1855.2,523 L1865.6,522 L1876,443 L1886.4,528 L1896.8,518 L1907.3,523 L1917.7,517 L1928.1,535.5 L1938.5,443 L1948.9,518 L1959.4,544 L1969.8,520.5 L1980.2,443 L1990.6,517 L1995.8,515.3 L1999,143.5 L2004,86 L2008,85.8 L2012,85.5 L2016,85.3 L2020,85.2 L2024,85 L2028,85 L2035,85" fill="none" stroke="#00ffff" stroke-width="2.3" stroke-linejoin="round"/>
<rect x="1402.9" y="540.8" width="8.4" height="8.4" fill="none" stroke="#00ffff" stroke-width="1.6"/>
<rect x="1413.3" y="544.4" width="8.4" height="8.4" fill="none" stroke="#00ffff" stroke-width="1.6"/>
<rect x="1423.7" y="546.6" width="8.4" height="8.4" fill="none" stroke="#00ffff" stroke-width="1.6"/>
<rect x="1434.2" y="542.5" width="8.4" height="8.4" fill="none" stroke="#00ffff" stroke-width="1.6"/>
<rect x="1444.6" y="538.7" width="8.4" height="8.4" fill="none" stroke="#00ffff" stroke-width="1.6"/>
<rect x="1455" y="532.8" width="8.4" height="8.4" fill="none" stroke="#00ffff" stroke-width="1.6"/>
<rect x="1465.4" y="568.1" width="8.4" height="8.4" fill="none" stroke="#00ffff" stroke-width="1.6"/>
<rect x="1475.8" y="537.1" width="8.4" height="8.4" fill="none" stroke="#00ffff" stroke-width="1.6"/>
<rect x="1486.3" y="456.6" width="8.4" height="8.4" fill="none" stroke="#00ffff" stroke-width="1.6"/>
<rect x="1496.7" y="533.3" width="8.4" height="8.4" fill="none" stroke="#00ffff" stroke-width="1.6"/>
<rect x="1507.1" y="558.6" width="8.4" height="8.4" fill="none" stroke="#00ffff" stroke-width="1.6"/>
<rect x="1517.5" y="540.3" width="8.4" height="8.4" fill="none" stroke="#00ffff" stroke-width="1.6"/>
<rect x="1527.9" y="545.8" width="8.4" height="8.4" fill="none" stroke="#00ffff" stroke-width="1.6"/>
<rect x="1538.4" y="525.3" width="8.4" height="8.4" fill="none" stroke="#00ffff" stroke-width="1.6"/>
<rect x="1548.8" y="527.3" width="8.4" height="8.4" fill="none" stroke="#00ffff" stroke-width="1.6"/>
<rect x="1559.2" y="536.2" width="8.4" height="8.4" fill="none" stroke="#00ffff" stroke-width="1.6"/>
<rect x="1569.6" y="529.9" width="8.4" height="8.4" fill="none" stroke="#00ffff" stroke-width="1.6"/>
<rect x="1580" y="521.4" width="8.4" height="8.4" fill="none" stroke="#00ffff" stroke-width="1.6"/>
<rect x="1590.5" y="573.5" width="8.4" height="8.4" fill="none" stroke="#00ffff" stroke-width="1.6"/>
<rect x="1600.9" y="447.8" width="8.4" height="8.4" fill="none" stroke="#00ffff" stroke-width="1.6"/>
<rect x="1611.3" y="518.9" width="8.4" height="8.4" fill="none" stroke="#00ffff" stroke-width="1.6"/>
<rect x="1621.7" y="531.1" width="8.4" height="8.4" fill="none" stroke="#00ffff" stroke-width="1.6"/>
<rect x="1632.1" y="447.8" width="8.4" height="8.4" fill="none" stroke="#00ffff" stroke-width="1.6"/>
<rect x="1642.6" y="519.8" width="8.4" height="8.4" fill="none" stroke="#00ffff" stroke-width="1.6"/>
<rect x="1653" y="523.1" width="8.4" height="8.4" fill="none" stroke="#00ffff" stroke-width="1.6"/>
<rect x="1663.4" y="559.1" width="8.4" height="8.4" fill="none" stroke="#00ffff" stroke-width="1.6"/>
<rect x="1673.8" y="447.8" width="8.4" height="8.4" fill="none" stroke="#00ffff" stroke-width="1.6"/>
<rect x="1684.2" y="529.1" width="8.4" height="8.4" fill="none" stroke="#00ffff" stroke-width="1.6"/>
<rect x="1694.7" y="522.8" width="8.4" height="8.4" fill="none" stroke="#00ffff" stroke-width="1.6"/>
<rect x="1705.1" y="519.5" width="8.4" height="8.4" fill="none" stroke="#00ffff" stroke-width="1.6"/>
<rect x="1715.5" y="525.2" width="8.4" height="8.4" fill="none" stroke="#00ffff" stroke-width="1.6"/>
<rect x="1725.9" y="516.9" width="8.4" height="8.4" fill="none" stroke="#00ffff" stroke-width="1.6"/>
<rect x="1736.3" y="517.3" width="8.4" height="8.4" fill="none" stroke="#00ffff" stroke-width="1.6"/>
<rect x="1746.8" y="527.5" width="8.4" height="8.4" fill="none" stroke="#00ffff" stroke-width="1.6"/>
<rect x="1757.2" y="521.8" width="8.4" height="8.4" fill="none" stroke="#00ffff" stroke-width="1.6"/>
<rect x="1767.6" y="542.7" width="8.4" height="8.4" fill="none" stroke="#00ffff" stroke-width="1.6"/>
<rect x="1778" y="518.8" width="8.4" height="8.4" fill="none" stroke="#00ffff" stroke-width="1.6"/>
<rect x="1788.4" y="514.5" width="8.4" height="8.4" fill="none" stroke="#00ffff" stroke-width="1.6"/>
<rect x="1798.9" y="522.2" width="8.4" height="8.4" fill="none" stroke="#00ffff" stroke-width="1.6"/>
<rect x="1809.3" y="526.5" width="8.4" height="8.4" fill="none" stroke="#00ffff" stroke-width="1.6"/>
<rect x="1819.7" y="516.2" width="8.4" height="8.4" fill="none" stroke="#00ffff" stroke-width="1.6"/>
<rect x="1830.1" y="526.6" width="8.4" height="8.4" fill="none" stroke="#00ffff" stroke-width="1.6"/>
<rect x="1840.5" y="540.2" width="8.4" height="8.4" fill="none" stroke="#00ffff" stroke-width="1.6"/>
<rect x="1851" y="518.8" width="8.4" height="8.4" fill="none" stroke="#00ffff" stroke-width="1.6"/>
<rect x="1861.4" y="517.8" width="8.4" height="8.4" fill="none" stroke="#00ffff" stroke-width="1.6"/>
<rect x="1871.8" y="438.8" width="8.4" height="8.4" fill="none" stroke="#00ffff" stroke-width="1.6"/>
<rect x="1882.2" y="523.8" width="8.4" height="8.4" fill="none" stroke="#00ffff" stroke-width="1.6"/>
<rect x="1892.6" y="513.8" width="8.4" height="8.4" fill="none" stroke="#00ffff" stroke-width="1.6"/>
<rect x="1903.1" y="518.8" width="8.4" height="8.4" fill="none" stroke="#00ffff" stroke-width="1.6"/>
<rect x="1913.5" y="512.8" width="8.4" height="8.4" fill="none" stroke="#00ffff" stroke-width="1.6"/>
<rect x="1923.9" y="531.3" width="8.4" height="8.4" fill="none" stroke="#00ffff" stroke-width="1.6"/>
<rect x="1934.3" y="438.8" width="8.4" height="8.4" fill="none" stroke="#00ffff" stroke-width="1.6"/>
<rect x="1944.7" y="513.8" width="8.4" height="8.4" fill="none" stroke="#00ffff" stroke-width="1.6"/>
<rect x="1955.2" y="539.8" width="8.4" height="8.4" fill="none" stroke="#00ffff" stroke-width="1.6"/>
<rect x="1965.6" y="516.3" width="8.4" height="8.4" fill="none" stroke="#00ffff" stroke-width="1.6"/>
<rect x="1976" y="438.8" width="8.4" height="8.4" fill="none" stroke="#00ffff" stroke-width="1.6"/>
<rect x="1986.4" y="512.8" width="8.4" height="8.4" fill="none" stroke="#00ffff" stroke-width="1.6"/>
<rect x="1991.6" y="511.1" width="8.4" height="8.4" fill="none" stroke="#00ffff" stroke-width="1.6"/>
<rect x="1994.8" y="139.3" width="8.4" height="8.4" fill="none" stroke="#00ffff" stroke-width="1.6"/>
<rect x="1999.8" y="81.8" width="8.4" height="8.4" fill="none" stroke="#00ffff" stroke-width="1.6"/>
<rect x="2003.8" y="81.6" width="8.4" height="8.4" fill="none" stroke="#00ffff" stroke-width="1.6"/>
<rect x="2007.8" y="81.3" width="8.4" height="8.4" fill="none" stroke="#00ffff" stroke-width="1.6"/>
<rect x="2011.8" y="81.1" width="8.4" height="8.4" fill="none" stroke="#00ffff" stroke-width="1.6"/>
<rect x="2015.8" y="81" width="8.4" height="8.4" fill="none" stroke="#00ffff" stroke-width="1.6"/>
<rect x="2019.8" y="80.8" width="8.4" height="8.4" fill="none" stroke="#00ffff" stroke-width="1.6"/>
<rect x="2023.8" y="80.8" width="8.4" height="8.4" fill="none" stroke="#00ffff" stroke-width="1.6"/>
<rect x="2030.8" y="80.8" width="8.4" height="8.4" fill="none" stroke="#00ffff" stroke-width="1.6"/>
<path d="M1407.1,557 L1417.5,541.6 L1427.9,537.9 L1438.4,570.3 L1448.8,561.8 L1459.2,544.3 L1469.6,543.9 L1480,554.5 L1490.5,545.7 L1500.9,542.6 L1511.3,557.5 L1521.7,539.6 L1532.1,550.6 L1542.6,530.8 L1553,539.7 L1563.4,540.2 L1573.8,526.2 L1584.2,550.4 L1594.7,558.8 L1605.1,525.1 L1615.5,536.8 L1625.9,541.9 L1636.3,541.1 L1646.8,536.3 L1657.2,527.7 L1667.6,522.5 L1678,523.5 L1688.4,555.5 L1698.9,545.6 L1709.3,535.7 L1719.7,521.4 L1730.1,534.4 L1740.5,545.8 L1751,529.4 L1761.4,547.6 L1771.8,531.8 L1782.2,524.9 L1792.6,533.2 L1803.1,517.4 L1813.5,443 L1823.9,520.5 L1834.3,515.5 L1844.7,528 L1855.2,523 L1865.6,535.5 L1876,553 L1886.4,557 L1891.6,518.2 L1896,143 L1901,89 L1905,88.5 L1909,88 L1913,87.5 L1917,87.5 L1921,87.2 L1925,87 L1930,87.5" fill="none" stroke="#40bfff" stroke-width="2.3" stroke-linejoin="round"/>
<rect x="1402.9" y="552.8" width="8.4" height="8.4" fill="none" stroke="#40bfff" stroke-width="1.6"/>
<rect x="1413.3" y="537.4" width="8.4" height="8.4" fill="none" stroke="#40bfff" stroke-width="1.6"/>
<rect x="1423.7" y="533.7" width="8.4" height="8.4" fill="none" stroke="#40bfff" stroke-width="1.6"/>
<rect x="1434.2" y="566.1" width="8.4" height="8.4" fill="none" stroke="#40bfff" stroke-width="1.6"/>
<rect x="1444.6" y="557.6" width="8.4" height="8.4" fill="none" stroke="#40bfff" stroke-width="1.6"/>
<rect x="1455" y="540.1" width="8.4" height="8.4" fill="none" stroke="#40bfff" stroke-width="1.6"/>
<rect x="1465.4" y="539.7" width="8.4" height="8.4" fill="none" stroke="#40bfff" stroke-width="1.6"/>
<rect x="1475.8" y="550.3" width="8.4" height="8.4" fill="none" stroke="#40bfff" stroke-width="1.6"/>
<rect x="1486.3" y="541.5" width="8.4" height="8.4" fill="none" stroke="#40bfff" stroke-width="1.6"/>
<rect x="1496.7" y="538.4" width="8.4" height="8.4" fill="none" stroke="#40bfff" stroke-width="1.6"/>
<rect x="1507.1" y="553.3" width="8.4" height="8.4" fill="none" stroke="#40bfff" stroke-width="1.6"/>
<rect x="1517.5" y="535.4" width="8.4" height="8.4" fill="none" stroke="#40bfff" stroke-width="1.6"/>
<rect x="1527.9" y="546.4" width="8.4" height="8.4" fill="none" stroke="#40bfff" stroke-width="1.6"/>
<rect x="1538.4" y="526.6" width="8.4" height="8.4" fill="none" stroke="#40bfff" stroke-width="1.6"/>
<rect x="1548.8" y="535.5" width="8.4" height="8.4" fill="none" stroke="#40bfff" stroke-width="1.6"/>
<rect x="1559.2" y="536" width="8.4" height="8.4" fill="none" stroke="#40bfff" stroke-width="1.6"/>
<rect x="1569.6" y="522" width="8.4" height="8.4" fill="none" stroke="#40bfff" stroke-width="1.6"/>
<rect x="1580" y="546.2" width="8.4" height="8.4" fill="none" stroke="#40bfff" stroke-width="1.6"/>
<rect x="1590.5" y="554.6" width="8.4" height="8.4" fill="none" stroke="#40bfff" stroke-width="1.6"/>
<rect x="1600.9" y="520.9" width="8.4" height="8.4" fill="none" stroke="#40bfff" stroke-width="1.6"/>
<rect x="1611.3" y="532.6" width="8.4" height="8.4" fill="none" stroke="#40bfff" stroke-width="1.6"/>
<rect x="1621.7" y="537.7" width="8.4" height="8.4" fill="none" stroke="#40bfff" stroke-width="1.6"/>
<rect x="1632.1" y="536.9" width="8.4" height="8.4" fill="none" stroke="#40bfff" stroke-width="1.6"/>
<rect x="1642.6" y="532.1" width="8.4" height="8.4" fill="none" stroke="#40bfff" stroke-width="1.6"/>
<rect x="1653" y="523.5" width="8.4" height="8.4" fill="none" stroke="#40bfff" stroke-width="1.6"/>
<rect x="1663.4" y="518.3" width="8.4" height="8.4" fill="none" stroke="#40bfff" stroke-width="1.6"/>
<rect x="1673.8" y="519.3" width="8.4" height="8.4" fill="none" stroke="#40bfff" stroke-width="1.6"/>
<rect x="1684.2" y="551.3" width="8.4" height="8.4" fill="none" stroke="#40bfff" stroke-width="1.6"/>
<rect x="1694.7" y="541.4" width="8.4" height="8.4" fill="none" stroke="#40bfff" stroke-width="1.6"/>
<rect x="1705.1" y="531.5" width="8.4" height="8.4" fill="none" stroke="#40bfff" stroke-width="1.6"/>
<rect x="1715.5" y="517.2" width="8.4" height="8.4" fill="none" stroke="#40bfff" stroke-width="1.6"/>
<rect x="1725.9" y="530.2" width="8.4" height="8.4" fill="none" stroke="#40bfff" stroke-width="1.6"/>
<rect x="1736.3" y="541.6" width="8.4" height="8.4" fill="none" stroke="#40bfff" stroke-width="1.6"/>
<rect x="1746.8" y="525.2" width="8.4" height="8.4" fill="none" stroke="#40bfff" stroke-width="1.6"/>
<rect x="1757.2" y="543.4" width="8.4" height="8.4" fill="none" stroke="#40bfff" stroke-width="1.6"/>
<rect x="1767.6" y="527.6" width="8.4" height="8.4" fill="none" stroke="#40bfff" stroke-width="1.6"/>
<rect x="1778" y="520.7" width="8.4" height="8.4" fill="none" stroke="#40bfff" stroke-width="1.6"/>
<rect x="1788.4" y="529" width="8.4" height="8.4" fill="none" stroke="#40bfff" stroke-width="1.6"/>
<rect x="1798.9" y="513.2" width="8.4" height="8.4" fill="none" stroke="#40bfff" stroke-width="1.6"/>
<rect x="1809.3" y="438.8" width="8.4" height="8.4" fill="none" stroke="#40bfff" stroke-width="1.6"/>
<rect x="1819.7" y="516.3" width="8.4" height="8.4" fill="none" stroke="#40bfff" stroke-width="1.6"/>
<rect x="1830.1" y="511.3" width="8.4" height="8.4" fill="none" stroke="#40bfff" stroke-width="1.6"/>
<rect x="1840.5" y="523.8" width="8.4" height="8.4" fill="none" stroke="#40bfff" stroke-width="1.6"/>
<rect x="1851" y="518.8" width="8.4" height="8.4" fill="none" stroke="#40bfff" stroke-width="1.6"/>
<rect x="1861.4" y="531.3" width="8.4" height="8.4" fill="none" stroke="#40bfff" stroke-width="1.6"/>
<rect x="1871.8" y="548.8" width="8.4" height="8.4" fill="none" stroke="#40bfff" stroke-width="1.6"/>
<rect x="1882.2" y="552.8" width="8.4" height="8.4" fill="none" stroke="#40bfff" stroke-width="1.6"/>
<rect x="1887.4" y="514" width="8.4" height="8.4" fill="none" stroke="#40bfff" stroke-width="1.6"/>
<rect x="1891.8" y="138.8" width="8.4" height="8.4" fill="none" stroke="#40bfff" stroke-width="1.6"/>
<rect x="1896.8" y="84.8" width="8.4" height="8.4" fill="none" stroke="#40bfff" stroke-width="1.6"/>
<rect x="1900.8" y="84.3" width="8.4" height="8.4" fill="none" stroke="#40bfff" stroke-width="1.6"/>
<rect x="1904.8" y="83.8" width="8.4" height="8.4" fill="none" stroke="#40bfff" stroke-width="1.6"/>
<rect x="1908.8" y="83.3" width="8.4" height="8.4" fill="none" stroke="#40bfff" stroke-width="1.6"/>
<rect x="1912.8" y="83.3" width="8.4" height="8.4" fill="none" stroke="#40bfff" stroke-width="1.6"/>
<rect x="1916.8" y="83" width="8.4" height="8.4" fill="none" stroke="#40bfff" stroke-width="1.6"/>
<rect x="1920.8" y="82.8" width="8.4" height="8.4" fill="none" stroke="#40bfff" stroke-width="1.6"/>
<rect x="1925.8" y="83.3" width="8.4" height="8.4" fill="none" stroke="#40bfff" stroke-width="1.6"/>
<path d="M1407.1,578.4 L1417.5,541.4 L1427.9,539.2 L1438.4,552.2 L1448.8,544.9 L1459.2,540.3 L1469.6,535.4 L1480,533 L1490.5,531.2 L1500.9,536.7 L1511.3,551.2 L1521.7,565.3 L1532.1,534.1 L1542.6,532.8 L1553,534.7 L1563.4,540.4 L1573.8,552.8 L1584.2,532.4 L1594.7,539 L1605.1,534.9 L1615.5,527.1 L1625.9,558.9 L1636.3,523.5 L1646.8,532.8 L1657.2,534.8 L1667.6,524.2 L1678,529.2 L1688.4,521.5 L1698.9,528.2 L1709.3,523.3 L1719.7,519.7 L1730.1,523.5 L1740.5,524.9 L1751,552 L1761.4,524.6 L1771.8,540 L1782.2,548 L1785.3,545.1 L1787.6,120.1 L1790.4,98.1 L1794.2,99.8 L1795.9,93.7 L1800,95 L1803,92.5 L1807,93 L1811,91 L1815,91.5 L1820.1,89.8" fill="none" stroke="#807fff" stroke-width="2.3" stroke-linejoin="round"/>
<rect x="1402.9" y="574.2" width="8.4" height="8.4" fill="none" stroke="#807fff" stroke-width="1.6"/>
<rect x="1413.3" y="537.2" width="8.4" height="8.4" fill="none" stroke="#807fff" stroke-width="1.6"/>
<rect x="1423.7" y="535" width="8.4" height="8.4" fill="none" stroke="#807fff" stroke-width="1.6"/>
<rect x="1434.2" y="548" width="8.4" height="8.4" fill="none" stroke="#807fff" stroke-width="1.6"/>
<rect x="1444.6" y="540.7" width="8.4" height="8.4" fill="none" stroke="#807fff" stroke-width="1.6"/>
<rect x="1455" y="536.1" width="8.4" height="8.4" fill="none" stroke="#807fff" stroke-width="1.6"/>
<rect x="1465.4" y="531.2" width="8.4" height="8.4" fill="none" stroke="#807fff" stroke-width="1.6"/>
<rect x="1475.8" y="528.8" width="8.4" height="8.4" fill="none" stroke="#807fff" stroke-width="1.6"/>
<rect x="1486.3" y="527" width="8.4" height="8.4" fill="none" stroke="#807fff" stroke-width="1.6"/>
<rect x="1496.7" y="532.5" width="8.4" height="8.4" fill="none" stroke="#807fff" stroke-width="1.6"/>
<rect x="1507.1" y="547" width="8.4" height="8.4" fill="none" stroke="#807fff" stroke-width="1.6"/>
<rect x="1517.5" y="561.1" width="8.4" height="8.4" fill="none" stroke="#807fff" stroke-width="1.6"/>
<rect x="1527.9" y="529.9" width="8.4" height="8.4" fill="none" stroke="#807fff" stroke-width="1.6"/>
<rect x="1538.4" y="528.6" width="8.4" height="8.4" fill="none" stroke="#807fff" stroke-width="1.6"/>
<rect x="1548.8" y="530.5" width="8.4" height="8.4" fill="none" stroke="#807fff" stroke-width="1.6"/>
<rect x="1559.2" y="536.2" width="8.4" height="8.4" fill="none" stroke="#807fff" stroke-width="1.6"/>
<rect x="1569.6" y="548.6" width="8.4" height="8.4" fill="none" stroke="#807fff" stroke-width="1.6"/>
<rect x="1580" y="528.2" width="8.4" height="8.4" fill="none" stroke="#807fff" stroke-width="1.6"/>
<rect x="1590.5" y="534.8" width="8.4" height="8.4" fill="none" stroke="#807fff" stroke-width="1.6"/>
<rect x="1600.9" y="530.7" width="8.4" height="8.4" fill="none" stroke="#807fff" stroke-width="1.6"/>
<rect x="1611.3" y="522.9" width="8.4" height="8.4" fill="none" stroke="#807fff" stroke-width="1.6"/>
<rect x="1621.7" y="554.7" width="8.4" height="8.4" fill="none" stroke="#807fff" stroke-width="1.6"/>
<rect x="1632.1" y="519.3" width="8.4" height="8.4" fill="none" stroke="#807fff" stroke-width="1.6"/>
<rect x="1642.6" y="528.6" width="8.4" height="8.4" fill="none" stroke="#807fff" stroke-width="1.6"/>
<rect x="1653" y="530.6" width="8.4" height="8.4" fill="none" stroke="#807fff" stroke-width="1.6"/>
<rect x="1663.4" y="520" width="8.4" height="8.4" fill="none" stroke="#807fff" stroke-width="1.6"/>
<rect x="1673.8" y="525" width="8.4" height="8.4" fill="none" stroke="#807fff" stroke-width="1.6"/>
<rect x="1684.2" y="517.3" width="8.4" height="8.4" fill="none" stroke="#807fff" stroke-width="1.6"/>
<rect x="1694.7" y="524" width="8.4" height="8.4" fill="none" stroke="#807fff" stroke-width="1.6"/>
<rect x="1705.1" y="519.1" width="8.4" height="8.4" fill="none" stroke="#807fff" stroke-width="1.6"/>
<rect x="1715.5" y="515.5" width="8.4" height="8.4" fill="none" stroke="#807fff" stroke-width="1.6"/>
<rect x="1725.9" y="519.3" width="8.4" height="8.4" fill="none" stroke="#807fff" stroke-width="1.6"/>
<rect x="1736.3" y="520.7" width="8.4" height="8.4" fill="none" stroke="#807fff" stroke-width="1.6"/>
<rect x="1746.8" y="547.8" width="8.4" height="8.4" fill="none" stroke="#807fff" stroke-width="1.6"/>
<rect x="1757.2" y="520.4" width="8.4" height="8.4" fill="none" stroke="#807fff" stroke-width="1.6"/>
<rect x="1767.6" y="535.8" width="8.4" height="8.4" fill="none" stroke="#807fff" stroke-width="1.6"/>
<rect x="1778" y="543.8" width="8.4" height="8.4" fill="none" stroke="#807fff" stroke-width="1.6"/>
<rect x="1781.1" y="540.9" width="8.4" height="8.4" fill="none" stroke="#807fff" stroke-width="1.6"/>
<rect x="1783.4" y="115.9" width="8.4" height="8.4" fill="none" stroke="#807fff" stroke-width="1.6"/>
<rect x="1786.2" y="93.9" width="8.4" height="8.4" fill="none" stroke="#807fff" stroke-width="1.6"/>
<rect x="1790" y="95.6" width="8.4" height="8.4" fill="none" stroke="#807fff" stroke-width="1.6"/>
<rect x="1791.7" y="89.5" width="8.4" height="8.4" fill="none" stroke="#807fff" stroke-width="1.6"/>
<rect x="1795.8" y="90.8" width="8.4" height="8.4" fill="none" stroke="#807fff" stroke-width="1.6"/>
<rect x="1798.8" y="88.3" width="8.4" height="8.4" fill="none" stroke="#807fff" stroke-width="1.6"/>
<rect x="1802.8" y="88.8" width="8.4" height="8.4" fill="none" stroke="#807fff" stroke-width="1.6"/>
<rect x="1806.8" y="86.8" width="8.4" height="8.4" fill="none" stroke="#807fff" stroke-width="1.6"/>
<rect x="1810.8" y="87.3" width="8.4" height="8.4" fill="none" stroke="#807fff" stroke-width="1.6"/>
<rect x="1815.9" y="85.6" width="8.4" height="8.4" fill="none" stroke="#807fff" stroke-width="1.6"/>
<path d="M1407.1,612.8 L1417.5,570 L1427.9,548 L1438.4,536.8 L1448.8,553.7 L1459.2,561.4 L1469.6,542.3 L1480,540.8 L1490.5,570.5 L1500.9,548.5 L1511.3,460.8 L1521.7,531.7 L1532.1,538.3 L1542.6,549 L1553,530 L1563.4,532.8 L1573.8,534.7 L1584.2,529.4 L1594.7,535.1 L1605.1,532.4 L1615.5,536.5 L1625.9,526.8 L1636.3,523.8 L1646.8,533.7 L1657.2,546 L1662.4,533.4 L1667,123.4 L1670.8,111 L1674,106 L1677.5,104 L1681,100 L1685,99 L1689,96.5 L1693,96 L1697,94 L1700,93.5" fill="none" stroke="#c03fff" stroke-width="2.3" stroke-linejoin="round"/>
<rect x="1402.9" y="608.6" width="8.4" height="8.4" fill="none" stroke="#c03fff" stroke-width="1.6"/>
<rect x="1413.3" y="565.8" width="8.4" height="8.4" fill="none" stroke="#c03fff" stroke-width="1.6"/>
<rect x="1423.7" y="543.8" width="8.4" height="8.4" fill="none" stroke="#c03fff" stroke-width="1.6"/>
<rect x="1434.2" y="532.6" width="8.4" height="8.4" fill="none" stroke="#c03fff" stroke-width="1.6"/>
<rect x="1444.6" y="549.5" width="8.4" height="8.4" fill="none" stroke="#c03fff" stroke-width="1.6"/>
<rect x="1455" y="557.2" width="8.4" height="8.4" fill="none" stroke="#c03fff" stroke-width="1.6"/>
<rect x="1465.4" y="538.1" width="8.4" height="8.4" fill="none" stroke="#c03fff" stroke-width="1.6"/>
<rect x="1475.8" y="536.6" width="8.4" height="8.4" fill="none" stroke="#c03fff" stroke-width="1.6"/>
<rect x="1486.3" y="566.3" width="8.4" height="8.4" fill="none" stroke="#c03fff" stroke-width="1.6"/>
<rect x="1496.7" y="544.3" width="8.4" height="8.4" fill="none" stroke="#c03fff" stroke-width="1.6"/>
<rect x="1507.1" y="456.6" width="8.4" height="8.4" fill="none" stroke="#c03fff" stroke-width="1.6"/>
<rect x="1517.5" y="527.5" width="8.4" height="8.4" fill="none" stroke="#c03fff" stroke-width="1.6"/>
<rect x="1527.9" y="534.1" width="8.4" height="8.4" fill="none" stroke="#c03fff" stroke-width="1.6"/>
<rect x="1538.4" y="544.8" width="8.4" height="8.4" fill="none" stroke="#c03fff" stroke-width="1.6"/>
<rect x="1548.8" y="525.8" width="8.4" height="8.4" fill="none" stroke="#c03fff" stroke-width="1.6"/>
<rect x="1559.2" y="528.6" width="8.4" height="8.4" fill="none" stroke="#c03fff" stroke-width="1.6"/>
<rect x="1569.6" y="530.5" width="8.4" height="8.4" fill="none" stroke="#c03fff" stroke-width="1.6"/>
<rect x="1580" y="525.2" width="8.4" height="8.4" fill="none" stroke="#c03fff" stroke-width="1.6"/>
<rect x="1590.5" y="530.9" width="8.4" height="8.4" fill="none" stroke="#c03fff" stroke-width="1.6"/>
<rect x="1600.9" y="528.2" width="8.4" height="8.4" fill="none" stroke="#c03fff" stroke-width="1.6"/>
<rect x="1611.3" y="532.3" width="8.4" height="8.4" fill="none" stroke="#c03fff" stroke-width="1.6"/>
<rect x="1621.7" y="522.6" width="8.4" height="8.4" fill="none" stroke="#c03fff" stroke-width="1.6"/>
<rect x="1632.1" y="519.6" width="8.4" height="8.4" fill="none" stroke="#c03fff" stroke-width="1.6"/>
<rect x="1642.6" y="529.5" width="8.4" height="8.4" fill="none" stroke="#c03fff" stroke-width="1.6"/>
<rect x="1653" y="541.8" width="8.4" height="8.4" fill="none" stroke="#c03fff" stroke-width="1.6"/>
<rect x="1658.2" y="529.2" width="8.4" height="8.4" fill="none" stroke="#c03fff" stroke-width="1.6"/>
<rect x="1662.8" y="119.2" width="8.4" height="8.4" fill="none" stroke="#c03fff" stroke-width="1.6"/>
<rect x="1666.6" y="106.8" width="8.4" height="8.4" fill="none" stroke="#c03fff" stroke-width="1.6"/>
<rect x="1669.8" y="101.8" width="8.4" height="8.4" fill="none" stroke="#c03fff" stroke-width="1.6"/>
<rect x="1673.3" y="99.8" width="8.4" height="8.4" fill="none" stroke="#c03fff" stroke-width="1.6"/>
<rect x="1676.8" y="95.8" width="8.4" height="8.4" fill="none" stroke="#c03fff" stroke-width="1.6"/>
<rect x="1680.8" y="94.8" width="8.4" height="8.4" fill="none" stroke="#c03fff" stroke-width="1.6"/>
<rect x="1684.8" y="92.3" width="8.4" height="8.4" fill="none" stroke="#c03fff" stroke-width="1.6"/>
<rect x="1688.8" y="91.8" width="8.4" height="8.4" fill="none" stroke="#c03fff" stroke-width="1.6"/>
<rect x="1692.8" y="89.8" width="8.4" height="8.4" fill="none" stroke="#c03fff" stroke-width="1.6"/>
<rect x="1695.8" y="89.3" width="8.4" height="8.4" fill="none" stroke="#c03fff" stroke-width="1.6"/>
<path d="M1407.1,552 L1417.5,572 L1427.9,555 L1438.4,543.7 L1448.8,540.6 L1459.2,537.4 L1469.6,544 L1480,540.2 L1490.5,534 L1500.9,543.1 L1511.3,542.4 L1521.7,542.3 L1532.1,529.6 L1542.6,540.3 L1553,528.2 L1563.4,536.2 L1573.8,583 L1584.2,527.8 L1594.7,545 L1599.9,137.2 L1606,119.3 L1609,113 L1612.5,110.5 L1616,105 L1619.5,106 L1623,101 L1626.5,100.5 L1629.5,98 L1632.2,97.2" fill="none" stroke="#e01fff" stroke-width="2.3" stroke-linejoin="round"/>
<rect x="1402.9" y="547.8" width="8.4" height="8.4" fill="none" stroke="#e01fff" stroke-width="1.6"/>
<rect x="1413.3" y="567.8" width="8.4" height="8.4" fill="none" stroke="#e01fff" stroke-width="1.6"/>
<rect x="1423.7" y="550.8" width="8.4" height="8.4" fill="none" stroke="#e01fff" stroke-width="1.6"/>
<rect x="1434.2" y="539.5" width="8.4" height="8.4" fill="none" stroke="#e01fff" stroke-width="1.6"/>
<rect x="1444.6" y="536.4" width="8.4" height="8.4" fill="none" stroke="#e01fff" stroke-width="1.6"/>
<rect x="1455" y="533.2" width="8.4" height="8.4" fill="none" stroke="#e01fff" stroke-width="1.6"/>
<rect x="1465.4" y="539.8" width="8.4" height="8.4" fill="none" stroke="#e01fff" stroke-width="1.6"/>
<rect x="1475.8" y="536" width="8.4" height="8.4" fill="none" stroke="#e01fff" stroke-width="1.6"/>
<rect x="1486.3" y="529.8" width="8.4" height="8.4" fill="none" stroke="#e01fff" stroke-width="1.6"/>
<rect x="1496.7" y="538.9" width="8.4" height="8.4" fill="none" stroke="#e01fff" stroke-width="1.6"/>
<rect x="1507.1" y="538.2" width="8.4" height="8.4" fill="none" stroke="#e01fff" stroke-width="1.6"/>
<rect x="1517.5" y="538.1" width="8.4" height="8.4" fill="none" stroke="#e01fff" stroke-width="1.6"/>
<rect x="1527.9" y="525.4" width="8.4" height="8.4" fill="none" stroke="#e01fff" stroke-width="1.6"/>
<rect x="1538.4" y="536.1" width="8.4" height="8.4" fill="none" stroke="#e01fff" stroke-width="1.6"/>
<rect x="1548.8" y="524" width="8.4" height="8.4" fill="none" stroke="#e01fff" stroke-width="1.6"/>
<rect x="1559.2" y="532" width="8.4" height="8.4" fill="none" stroke="#e01fff" stroke-width="1.6"/>
<rect x="1569.6" y="578.8" width="8.4" height="8.4" fill="none" stroke="#e01fff" stroke-width="1.6"/>
<rect x="1580" y="523.6" width="8.4" height="8.4" fill="none" stroke="#e01fff" stroke-width="1.6"/>
<rect x="1590.5" y="540.8" width="8.4" height="8.4" fill="none" stroke="#e01fff" stroke-width="1.6"/>
<rect x="1595.7" y="133" width="8.4" height="8.4" fill="none" stroke="#e01fff" stroke-width="1.6"/>
<rect x="1601.8" y="115.1" width="8.4" height="8.4" fill="none" stroke="#e01fff" stroke-width="1.6"/>
<rect x="1604.8" y="108.8" width="8.4" height="8.4" fill="none" stroke="#e01fff" stroke-width="1.6"/>
<rect x="1608.3" y="106.3" width="8.4" height="8.4" fill="none" stroke="#e01fff" stroke-width="1.6"/>
<rect x="1611.8" y="100.8" width="8.4" height="8.4" fill="none" stroke="#e01fff" stroke-width="1.6"/>
<rect x="1615.3" y="101.8" width="8.4" height="8.4" fill="none" stroke="#e01fff" stroke-width="1.6"/>
<rect x="1618.8" y="96.8" width="8.4" height="8.4" fill="none" stroke="#e01fff" stroke-width="1.6"/>
<rect x="1622.3" y="96.3" width="8.4" height="8.4" fill="none" stroke="#e01fff" stroke-width="1.6"/>
<rect x="1625.3" y="93.8" width="8.4" height="8.4" fill="none" stroke="#e01fff" stroke-width="1.6"/>
<rect x="1628" y="93" width="8.4" height="8.4" fill="none" stroke="#e01fff" stroke-width="1.6"/>
<path d="M1407.1,548 L1417.5,584 L1427.9,469.6 L1438.4,586.7 L1448.8,549.7 L1459.2,566 L1469.6,536.2 L1480,555.8 L1490.5,535.4 L1500.9,581.2 L1511.3,562.9 L1521.7,565 L1528,540 L1532.6,132.7 L1535.3,117.5 L1539.5,116.5 L1540.8,108.3 L1544.3,112 L1546.3,103.4 L1551.2,106.5 L1554.6,96.9 L1558.5,101 L1561,96.5 L1565.6,99" fill="none" stroke="#ff00ff" stroke-width="2.3" stroke-linejoin="round"/>
<rect x="1402.9" y="543.8" width="8.4" height="8.4" fill="none" stroke="#ff00ff" stroke-width="1.6"/>
<rect x="1413.3" y="579.8" width="8.4" height="8.4" fill="none" stroke="#ff00ff" stroke-width="1.6"/>
<rect x="1423.7" y="465.4" width="8.4" height="8.4" fill="none" stroke="#ff00ff" stroke-width="1.6"/>
<rect x="1434.2" y="582.5" width="8.4" height="8.4" fill="none" stroke="#ff00ff" stroke-width="1.6"/>
<rect x="1444.6" y="545.5" width="8.4" height="8.4" fill="none" stroke="#ff00ff" stroke-width="1.6"/>
<rect x="1455" y="561.8" width="8.4" height="8.4" fill="none" stroke="#ff00ff" stroke-width="1.6"/>
<rect x="1465.4" y="532" width="8.4" height="8.4" fill="none" stroke="#ff00ff" stroke-width="1.6"/>
<rect x="1475.8" y="551.6" width="8.4" height="8.4" fill="none" stroke="#ff00ff" stroke-width="1.6"/>
<rect x="1486.3" y="531.2" width="8.4" height="8.4" fill="none" stroke="#ff00ff" stroke-width="1.6"/>
<rect x="1496.7" y="577" width="8.4" height="8.4" fill="none" stroke="#ff00ff" stroke-width="1.6"/>
<rect x="1507.1" y="558.7" width="8.4" height="8.4" fill="none" stroke="#ff00ff" stroke-width="1.6"/>
<rect x="1517.5" y="560.8" width="8.4" height="8.4" fill="none" stroke="#ff00ff" stroke-width="1.6"/>
<rect x="1523.8" y="535.8" width="8.4" height="8.4" fill="none" stroke="#ff00ff" stroke-width="1.6"/>
<rect x="1528.4" y="128.5" width="8.4" height="8.4" fill="none" stroke="#ff00ff" stroke-width="1.6"/>
<rect x="1531.1" y="113.3" width="8.4" height="8.4" fill="none" stroke="#ff00ff" stroke-width="1.6"/>
<rect x="1535.3" y="112.3" width="8.4" height="8.4" fill="none" stroke="#ff00ff" stroke-width="1.6"/>
<rect x="1536.6" y="104.1" width="8.4" height="8.4" fill="none" stroke="#ff00ff" stroke-width="1.6"/>
<rect x="1540.1" y="107.8" width="8.4" height="8.4" fill="none" stroke="#ff00ff" stroke-width="1.6"/>
<rect x="1542.1" y="99.2" width="8.4" height="8.4" fill="none" stroke="#ff00ff" stroke-width="1.6"/>
<rect x="1547" y="102.3" width="8.4" height="8.4" fill="none" stroke="#ff00ff" stroke-width="1.6"/>
<rect x="1550.4" y="92.7" width="8.4" height="8.4" fill="none" stroke="#ff00ff" stroke-width="1.6"/>
<rect x="1554.3" y="96.8" width="8.4" height="8.4" fill="none" stroke="#ff00ff" stroke-width="1.6"/>
<rect x="1556.8" y="92.3" width="8.4" height="8.4" fill="none" stroke="#ff00ff" stroke-width="1.6"/>
<rect x="1561.4" y="94.8" width="8.4" height="8.4" fill="none" stroke="#ff00ff" stroke-width="1.6"/>
<rect x="1293.8" y="58.3" width="769.4" height="582.5" fill="none" stroke="#686868" stroke-width="2.2"/>
<rect x="1305.5" y="69.6" width="221.5" height="230" rx="5" fill="#fff" fill-opacity="0.8" stroke="#d8d8d8" stroke-width="1.5"/>
<line x1="1311.7" y1="89.7" x2="1360.2" y2="89.7" stroke="#00ffff" stroke-width="2.3"/>
<rect x="1332.3" y="85.5" width="8.4" height="8.4" fill="none" stroke="#00ffff" stroke-width="1.6"/>
<text x="1378.5" y="98.1" font-family="'DejaVu Sans', 'Liberation Sans', sans-serif" font-size="23.3" fill="#000"><tspan font-style="italic">L</tspan><tspan font-style="italic" font-size="16.3" dy="4.5">i</tspan><tspan dy="-4.5">=1850 nm</tspan></text>
<line x1="1311.7" y1="127.2" x2="1360.2" y2="127.2" stroke="#40bfff" stroke-width="2.3"/>
<rect x="1332.3" y="123" width="8.4" height="8.4" fill="none" stroke="#40bfff" stroke-width="1.6"/>
<text x="1378.5" y="135.6" font-family="'DejaVu Sans', 'Liberation Sans', sans-serif" font-size="23.3" fill="#000"><tspan font-style="italic">L</tspan><tspan font-style="italic" font-size="16.3" dy="4.5">i</tspan><tspan dy="-4.5">=1450 nm</tspan></text>
<line x1="1311.7" y1="164.7" x2="1360.2" y2="164.7" stroke="#807fff" stroke-width="2.3"/>
<rect x="1332.3" y="160.5" width="8.4" height="8.4" fill="none" stroke="#807fff" stroke-width="1.6"/>
<text x="1378.5" y="173.1" font-family="'DejaVu Sans', 'Liberation Sans', sans-serif" font-size="23.3" fill="#000"><tspan font-style="italic">L</tspan><tspan font-style="italic" font-size="16.3" dy="4.5">i</tspan><tspan dy="-4.5">=1050 nm</tspan></text>
<line x1="1311.7" y1="202.2" x2="1360.2" y2="202.2" stroke="#c03fff" stroke-width="2.3"/>
<rect x="1332.3" y="198" width="8.4" height="8.4" fill="none" stroke="#c03fff" stroke-width="1.6"/>
<text x="1378.5" y="210.6" font-family="'DejaVu Sans', 'Liberation Sans', sans-serif" font-size="23.3" fill="#000"><tspan font-style="italic">L</tspan><tspan font-style="italic" font-size="16.3" dy="4.5">i</tspan><tspan dy="-4.5">=650 nm</tspan></text>
<line x1="1311.7" y1="239.7" x2="1360.2" y2="239.7" stroke="#e01fff" stroke-width="2.3"/>
<rect x="1332.3" y="235.5" width="8.4" height="8.4" fill="none" stroke="#e01fff" stroke-width="1.6"/>
<text x="1378.5" y="248.1" font-family="'DejaVu Sans', 'Liberation Sans', sans-serif" font-size="23.3" fill="#000"><tspan font-style="italic">L</tspan><tspan font-style="italic" font-size="16.3" dy="4.5">i</tspan><tspan dy="-4.5">=450 nm</tspan></text>
<line x1="1311.7" y1="277.2" x2="1360.2" y2="277.2" stroke="#ff00ff" stroke-width="2.3"/>
<rect x="1332.3" y="273" width="8.4" height="8.4" fill="none" stroke="#ff00ff" stroke-width="1.6"/>
<text x="1378.5" y="285.6" font-family="'DejaVu Sans', 'Liberation Sans', sans-serif" font-size="23.3" fill="#000"><tspan font-style="italic">L</tspan><tspan font-style="italic" font-size="16.3" dy="4.5">i</tspan><tspan dy="-4.5">=250 nm</tspan></text>
</svg></body></html>
